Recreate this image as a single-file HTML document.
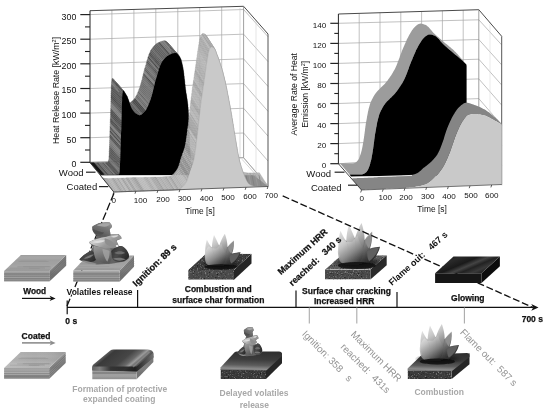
<!DOCTYPE html>
<html><head><meta charset="utf-8"><title>Fire behaviour of wood and coated wood</title>
<style>
html,body{margin:0;padding:0;background:#fff;}
svg{display:block;font-family:"Liberation Sans",sans-serif;}
</style></head><body>
<svg width="550" height="413" viewBox="0 0 550 413">
<rect width="550" height="413" fill="#fff"/>
<defs><linearGradient id="wtop" x1="0" y1="0" x2="0" y2="1"><stop offset="0.0" stop-color="#9c9c9c"/><stop offset="0.111" stop-color="#a6a6a6"/><stop offset="0.222" stop-color="#a5a5a5"/><stop offset="0.333" stop-color="#9e9e9e"/><stop offset="0.444" stop-color="#a1a1a1"/><stop offset="0.556" stop-color="#a1a1a1"/><stop offset="0.667" stop-color="#a4a4a4"/><stop offset="0.778" stop-color="#a6a6a6"/><stop offset="0.889" stop-color="#9c9c9c"/><stop offset="1.0" stop-color="#9b9b9b"/></linearGradient><linearGradient id="wfront" x1="0" y1="0" x2="0" y2="1"><stop offset="0.0" stop-color="#a8a8a8"/><stop offset="0.125" stop-color="#a7a7a7"/><stop offset="0.25" stop-color="#848484"/><stop offset="0.375" stop-color="#858585"/><stop offset="0.5" stop-color="#a3a3a3"/><stop offset="0.625" stop-color="#9f9f9f"/><stop offset="0.75" stop-color="#9c9c9c"/><stop offset="0.875" stop-color="#8e8e8e"/><stop offset="1.0" stop-color="#9a9a9a"/></linearGradient><linearGradient id="wside" x1="0" y1="0" x2="0" y2="1"><stop offset="0.0" stop-color="#767676"/><stop offset="0.143" stop-color="#7c7c7c"/><stop offset="0.286" stop-color="#797979"/><stop offset="0.429" stop-color="#7e7e7e"/><stop offset="0.571" stop-color="#7e7e7e"/><stop offset="0.714" stop-color="#737373"/><stop offset="0.857" stop-color="#727272"/><stop offset="1.0" stop-color="#828282"/></linearGradient><linearGradient id="ctop" x1="0" y1="0" x2="0" y2="1"><stop offset="0.0" stop-color="#acacac"/><stop offset="0.125" stop-color="#aaaaaa"/><stop offset="0.25" stop-color="#aeaeae"/><stop offset="0.375" stop-color="#ababab"/><stop offset="0.5" stop-color="#a9a9a9"/><stop offset="0.625" stop-color="#aeaeae"/><stop offset="0.75" stop-color="#b5b5b5"/><stop offset="0.875" stop-color="#b4b4b4"/><stop offset="1.0" stop-color="#b3b3b3"/></linearGradient><linearGradient id="cfront" x1="0" y1="0" x2="0" y2="1"><stop offset="0.0" stop-color="#9e9e9e"/><stop offset="0.125" stop-color="#a4a4a4"/><stop offset="0.25" stop-color="#a7a7a7"/><stop offset="0.375" stop-color="#afafaf"/><stop offset="0.5" stop-color="#a4a4a4"/><stop offset="0.625" stop-color="#adadad"/><stop offset="0.75" stop-color="#7f7f7f"/><stop offset="0.875" stop-color="#969696"/><stop offset="1.0" stop-color="#afafaf"/></linearGradient><linearGradient id="cside" x1="0" y1="0" x2="0" y2="1"><stop offset="0.0" stop-color="#8c8c8c"/><stop offset="0.143" stop-color="#8d8d8d"/><stop offset="0.286" stop-color="#878787"/><stop offset="0.429" stop-color="#848484"/><stop offset="0.571" stop-color="#808080"/><stop offset="0.714" stop-color="#8a8a8a"/><stop offset="0.857" stop-color="#878787"/><stop offset="1.0" stop-color="#8c8c8c"/></linearGradient><filter id="char" x="0" y="0" width="1" height="1"><feTurbulence type="fractalNoise" baseFrequency="0.75" numOctaves="2" seed="4" result="n"/><feColorMatrix in="n" type="matrix" values="0 0 0 0 0  0 0 0 0 0  0 0 0 0 0  2.2 2.2 0 0 -2.45" result="a"/><feFlood flood-color="#8c8c8c"/><feComposite operator="in" in2="a" result="sp"/><feColorMatrix in="n" type="matrix" values="0 0 0 0 0  0 0 0 0 0  0 0 0 0 0  0 -2.2 -2.2 0 2.0" result="b"/><feFlood flood-color="#141414"/><feComposite operator="in" in2="b" result="dk"/><feMerge><feMergeNode in="SourceGraphic"/><feMergeNode in="dk"/><feMergeNode in="sp"/></feMerge><feComposite operator="in" in2="SourceGraphic"/></filter><linearGradient id="fadeR" x1="0" y1="0" x2="1" y2="0"><stop offset="0" stop-color="rgba(255,255,255,0.12)"/><stop offset="0.5" stop-color="rgba(255,255,255,0)"/><stop offset="1" stop-color="rgba(0,0,0,0.1)"/></linearGradient><linearGradient id="flameg" x1="0.15" y1="0" x2="0.8" y2="1"><stop offset="0" stop-color="#ededed"/><stop offset="0.28" stop-color="#c6c6c6"/><stop offset="0.55" stop-color="#868686"/><stop offset="0.82" stop-color="#3c3c3c"/><stop offset="1" stop-color="#1c1c1c"/></linearGradient><linearGradient id="flameg2" x1="0" y1="0" x2="1" y2="1"><stop offset="0" stop-color="#ffffff"/><stop offset="0.5" stop-color="#cfcfcf"/><stop offset="1" stop-color="#777"/></linearGradient><radialGradient id="shad" cx="0.5" cy="0.5" r="0.5"><stop offset="0" stop-color="#111" stop-opacity="0.95"/><stop offset="0.6" stop-color="#1a1a1a" stop-opacity="0.7"/><stop offset="1" stop-color="#222" stop-opacity="0"/></radialGradient><filter id="blur1" x="-0.1" y="-0.1" width="1.2" height="1.2"><feGaussianBlur stdDeviation="0.45"/></filter><filter id="blur2" x="-0.2" y="-0.2" width="1.4" height="1.4"><feGaussianBlur stdDeviation="0.8"/></filter><linearGradient id="lobeg" x1="0.1" y1="0" x2="0.75" y2="1"><stop offset="0" stop-color="#ececec"/><stop offset="0.3" stop-color="#c6c6c6"/><stop offset="0.62" stop-color="#8a8a8a"/><stop offset="1" stop-color="#303030"/></linearGradient><filter id="blurF" x="-0.1" y="-0.1" width="1.2" height="1.2"><feGaussianBlur stdDeviation="1.3"/></filter><linearGradient id="smk1" x1="0.8" y1="0" x2="0.2" y2="1"><stop offset="0" stop-color="#9c9c9c"/><stop offset="0.3" stop-color="#7c7c7c"/><stop offset="1" stop-color="#4e4e4e"/></linearGradient><linearGradient id="smk2" x1="0" y1="0" x2="1" y2="0.6"><stop offset="0" stop-color="#c4c4c4"/><stop offset="0.35" stop-color="#cccccc"/><stop offset="0.7" stop-color="#9a9a9a"/><stop offset="1" stop-color="#8a8a8a"/></linearGradient><linearGradient id="smk3" x1="0" y1="0" x2="0.3" y2="1"><stop offset="0" stop-color="#a0a0a0"/><stop offset="0.5" stop-color="#7e7e7e"/><stop offset="1" stop-color="#5a5a5a"/></linearGradient><linearGradient id="smk4" x1="0" y1="0" x2="1" y2="0.5"><stop offset="0" stop-color="#2c2c2c"/><stop offset="0.5" stop-color="#4a4a4a"/><stop offset="1" stop-color="#2a2a2a"/></linearGradient><filter id="blurS" x="-0.1" y="-0.1" width="1.2" height="1.2"><feGaussianBlur stdDeviation="3.2"/></filter><linearGradient id="cb2top" gradientUnits="userSpaceOnUse" x1="92" y1="0" x2="138" y2="0" gradientTransform="translate(0 366.2) skewX(-50) translate(0 -366.2)"><stop offset="0" stop-color="#5a5a5a"/><stop offset="0.1" stop-color="#3a3a3a"/><stop offset="0.5" stop-color="#464646"/><stop offset="0.7" stop-color="#6a6a6a"/><stop offset="0.8" stop-color="#9c9c9c"/><stop offset="0.88" stop-color="#6a6a6a"/><stop offset="1" stop-color="#4c4c4c"/></linearGradient><linearGradient id="cb2bev" x1="0" y1="0" x2="1" y2="0"><stop offset="0" stop-color="#666"/><stop offset="0.12" stop-color="#888"/><stop offset="0.3" stop-color="#333"/><stop offset="0.7" stop-color="#1c1c1c"/><stop offset="0.9" stop-color="#555"/><stop offset="1" stop-color="#777"/></linearGradient><linearGradient id="glosstop" x1="0.3" y1="0" x2="0.2" y2="1"><stop offset="0" stop-color="#303030"/><stop offset="0.4" stop-color="#3c3c3c"/><stop offset="0.7" stop-color="#5c5c5c"/><stop offset="0.9" stop-color="#8e8e8e"/><stop offset="1" stop-color="#5c5c5c"/></linearGradient><linearGradient id="blacktop" x1="0" y1="0" x2="1" y2="0.6"><stop offset="0" stop-color="#111"/><stop offset="0.3" stop-color="#2a2a2a"/><stop offset="0.5" stop-color="#1a1a1a"/><stop offset="0.62" stop-color="#444"/><stop offset="0.72" stop-color="#222"/><stop offset="0.85" stop-color="#3a3a3a"/><stop offset="1" stop-color="#1a1a1a"/></linearGradient></defs>
<polygon points="90.0,10.7 243.6,6.3 243.6,157.7 90.0,162.3" fill="#fff" stroke="none" stroke-width="0.5" />
<line x1="111.9" y1="10.1" x2="111.9" y2="161.6" stroke="#a6a6a6" stroke-width="0.7" />
<line x1="133.9" y1="9.4" x2="133.9" y2="161.0" stroke="#a6a6a6" stroke-width="0.7" />
<line x1="155.8" y1="8.8" x2="155.8" y2="160.3" stroke="#a6a6a6" stroke-width="0.7" />
<line x1="177.8" y1="8.2" x2="177.8" y2="159.7" stroke="#a6a6a6" stroke-width="0.7" />
<line x1="199.7" y1="7.6" x2="199.7" y2="159.0" stroke="#a6a6a6" stroke-width="0.7" />
<line x1="221.7" y1="6.9" x2="221.7" y2="158.4" stroke="#a6a6a6" stroke-width="0.7" />
<line x1="90.0" y1="162.3" x2="243.6" y2="157.7" stroke="#a6a6a6" stroke-width="0.7" />
<line x1="243.6" y1="157.7" x2="268.0" y2="185.8" stroke="#a6a6a6" stroke-width="0.7" />
<line x1="90.0" y1="137.7" x2="243.6" y2="133.0" stroke="#a6a6a6" stroke-width="0.7" />
<line x1="243.6" y1="133.0" x2="268.0" y2="161.0" stroke="#a6a6a6" stroke-width="0.7" />
<line x1="90.0" y1="113.1" x2="243.6" y2="108.3" stroke="#a6a6a6" stroke-width="0.7" />
<line x1="243.6" y1="108.3" x2="268.0" y2="136.1" stroke="#a6a6a6" stroke-width="0.7" />
<line x1="90.0" y1="88.5" x2="243.6" y2="83.6" stroke="#a6a6a6" stroke-width="0.7" />
<line x1="243.6" y1="83.6" x2="268.0" y2="111.3" stroke="#a6a6a6" stroke-width="0.7" />
<line x1="90.0" y1="63.8" x2="243.6" y2="58.9" stroke="#a6a6a6" stroke-width="0.7" />
<line x1="243.6" y1="58.9" x2="268.0" y2="86.4" stroke="#a6a6a6" stroke-width="0.7" />
<line x1="90.0" y1="39.2" x2="243.6" y2="34.2" stroke="#a6a6a6" stroke-width="0.7" />
<line x1="243.6" y1="34.2" x2="268.0" y2="61.6" stroke="#a6a6a6" stroke-width="0.7" />
<line x1="90.0" y1="14.6" x2="243.6" y2="9.5" stroke="#a6a6a6" stroke-width="0.7" />
<line x1="243.6" y1="9.5" x2="268.0" y2="36.7" stroke="#a6a6a6" stroke-width="0.7" />
<line x1="256.0" y1="20.0" x2="256.0" y2="171.7" stroke="#d4d4d4" stroke-width="0.6" />
<line x1="90.0" y1="10.7" x2="243.6" y2="6.3" stroke="#4a4a4a" stroke-width="1" />
<line x1="243.6" y1="6.3" x2="268.0" y2="34.0" stroke="#4a4a4a" stroke-width="1" />
<line x1="243.6" y1="6.3" x2="243.6" y2="157.7" stroke="#888" stroke-width="0.8" />
<line x1="268.0" y1="34.0" x2="268.0" y2="186.5" stroke="#555" stroke-width="1" />
<line x1="243.6" y1="157.7" x2="268.0" y2="186.5" stroke="#999" stroke-width="0.7" />
<line x1="242.0" y1="159.3" x2="266.6" y2="186.6" stroke="#bbb" stroke-width="0.6" />
<line x1="240.0" y1="8.0" x2="240.0" y2="158.0" stroke="#c8c8c8" stroke-width="0.6" />
<line x1="90.0" y1="162.3" x2="243.6" y2="157.7" stroke="#999" stroke-width="0.7" />
<polygon points="90.0,162.7 92.1,162.7 102.8,174.9 100.7,174.9" fill="#676767" stroke="#676767" stroke-width="0.35"/>
<polygon points="92.1,162.7 94.1,162.7 104.8,174.9 102.8,174.9" fill="#676767" stroke="#676767" stroke-width="0.35"/>
<polygon points="94.1,162.7 96.2,162.7 106.9,174.9 104.8,174.9" fill="#646464" stroke="#646464" stroke-width="0.35"/>
<polygon points="96.2,162.7 98.3,162.6 109.0,174.8 106.9,174.9" fill="#525252" stroke="#525252" stroke-width="0.35"/>
<polygon points="98.3,162.6 100.2,162.6 110.9,174.8 109.0,174.8" fill="#6b6b6b" stroke="#6b6b6b" stroke-width="0.35"/>
<polygon points="100.2,162.6 102.1,162.6 112.8,174.8 110.9,174.8" fill="#6b6b6b" stroke="#6b6b6b" stroke-width="0.35"/>
<polygon points="102.1,162.6 103.7,162.5 114.4,174.7 112.8,174.8" fill="#585858" stroke="#585858" stroke-width="0.35"/>
<polygon points="103.7,162.5 105.2,162.5 115.9,174.7 114.4,174.7" fill="#757575" stroke="#757575" stroke-width="0.35"/>
<polygon points="105.2,162.5 106.4,162.4 117.1,174.6 115.9,174.7" fill="#4a4a4a" stroke="#4a4a4a" stroke-width="0.35"/>
<polygon points="106.4,162.4 107.3,162.4 118.0,174.6 117.1,174.6" fill="#4a4a4a" stroke="#4a4a4a" stroke-width="0.35"/>
<polygon points="107.3,162.4 107.9,162.3 118.6,174.5 118.0,174.6" fill="#4a4a4a" stroke="#4a4a4a" stroke-width="0.35"/>
<polygon points="107.9,162.3 108.2,162.3 118.9,174.5 118.6,174.5" fill="#6a6a6a" stroke="#6a6a6a" stroke-width="0.35"/>
<polygon points="108.2,162.3 108.3,162.0 119.0,174.2 118.9,174.5" fill="#484848" stroke="#484848" stroke-width="0.35"/>
<polygon points="108.3,162.0 108.5,161.5 119.2,173.7 119.0,174.2" fill="#4b4b4b" stroke="#4b4b4b" stroke-width="0.35"/>
<polygon points="108.5,161.5 108.6,160.8 119.3,173.0 119.2,173.7" fill="#555555" stroke="#555555" stroke-width="0.35"/>
<polygon points="108.6,160.8 108.8,160.0 119.5,172.2 119.3,173.0" fill="#616161" stroke="#616161" stroke-width="0.35"/>
<polygon points="108.8,160.0 108.9,159.0 119.6,171.2 119.5,172.2" fill="#777777" stroke="#777777" stroke-width="0.35"/>
<polygon points="108.9,159.0 109.0,157.8 119.7,170.0 119.6,171.2" fill="#6b6b6b" stroke="#6b6b6b" stroke-width="0.35"/>
<polygon points="109.0,157.8 109.1,156.4 119.8,168.6 119.7,170.0" fill="#6d6d6d" stroke="#6d6d6d" stroke-width="0.35"/>
<polygon points="109.1,156.4 109.2,155.0 119.9,167.2 119.8,168.6" fill="#575757" stroke="#575757" stroke-width="0.35"/>
<polygon points="109.2,155.0 109.3,153.4 120.0,165.6 119.9,167.2" fill="#575757" stroke="#575757" stroke-width="0.35"/>
<polygon points="109.3,153.4 109.3,151.7 120.0,163.9 120.0,165.6" fill="#575757" stroke="#575757" stroke-width="0.35"/>
<polygon points="109.3,151.7 109.4,149.9 120.1,162.1 120.0,163.9" fill="#575757" stroke="#575757" stroke-width="0.35"/>
<polygon points="109.4,149.9 109.5,148.0 120.2,160.2 120.1,162.1" fill="#595959" stroke="#595959" stroke-width="0.35"/>
<polygon points="109.5,148.0 109.5,146.1 120.2,158.3 120.2,160.2" fill="#585858" stroke="#585858" stroke-width="0.35"/>
<polygon points="109.5,146.1 109.6,144.1 120.3,156.3 120.2,158.3" fill="#727272" stroke="#727272" stroke-width="0.35"/>
<polygon points="109.6,144.1 109.6,142.1 120.3,154.3 120.3,156.3" fill="#777777" stroke="#777777" stroke-width="0.35"/>
<polygon points="109.6,142.1 109.7,140.1 120.4,152.3 120.3,154.3" fill="#7d7d7d" stroke="#7d7d7d" stroke-width="0.35"/>
<polygon points="109.7,140.1 109.8,138.0 120.5,150.2 120.4,152.3" fill="#7d7d7d" stroke="#7d7d7d" stroke-width="0.35"/>
<polygon points="109.8,138.0 109.8,136.0 120.5,148.2 120.5,150.2" fill="#535353" stroke="#535353" stroke-width="0.35"/>
<polygon points="109.8,136.0 109.9,133.9 120.6,146.1 120.5,148.2" fill="#535353" stroke="#535353" stroke-width="0.35"/>
<polygon points="109.9,133.9 109.9,131.9 120.6,144.1 120.6,146.1" fill="#7e7e7e" stroke="#7e7e7e" stroke-width="0.35"/>
<polygon points="109.9,131.9 110.0,129.9 120.7,142.1 120.6,144.1" fill="#4c4c4c" stroke="#4c4c4c" stroke-width="0.35"/>
<polygon points="110.0,129.9 110.0,128.0 120.7,140.2 120.7,142.1" fill="#737373" stroke="#737373" stroke-width="0.35"/>
<polygon points="110.0,128.0 110.1,126.2 120.8,138.4 120.7,140.2" fill="#4c4c4c" stroke="#4c4c4c" stroke-width="0.35"/>
<polygon points="110.1,126.2 110.2,124.4 120.9,136.6 120.8,138.4" fill="#7d7d7d" stroke="#7d7d7d" stroke-width="0.35"/>
<polygon points="110.2,124.4 110.3,122.7 121.0,134.9 120.9,136.6" fill="#7d7d7d" stroke="#7d7d7d" stroke-width="0.35"/>
<polygon points="110.3,122.7 110.3,121.1 121.0,133.3 121.0,134.9" fill="#555555" stroke="#555555" stroke-width="0.35"/>
<polygon points="110.3,121.1 110.4,119.5 121.1,131.7 121.0,133.3" fill="#4b4b4b" stroke="#4b4b4b" stroke-width="0.35"/>
<polygon points="110.4,119.5 110.5,117.7 121.2,129.9 121.1,131.7" fill="#4b4b4b" stroke="#4b4b4b" stroke-width="0.35"/>
<polygon points="110.5,117.7 110.6,115.9 121.3,128.1 121.2,129.9" fill="#676767" stroke="#676767" stroke-width="0.35"/>
<polygon points="110.6,115.9 110.6,114.0 121.3,126.2 121.3,128.1" fill="#525252" stroke="#525252" stroke-width="0.35"/>
<polygon points="110.6,114.0 110.7,112.0 121.4,124.2 121.3,126.2" fill="#4f4f4f" stroke="#4f4f4f" stroke-width="0.35"/>
<polygon points="110.7,112.0 110.7,110.0 121.4,122.2 121.4,124.2" fill="#4e4e4e" stroke="#4e4e4e" stroke-width="0.35"/>
<polygon points="110.7,110.0 110.8,108.0 121.5,120.2 121.4,122.2" fill="#535353" stroke="#535353" stroke-width="0.35"/>
<polygon points="110.8,108.0 110.8,105.9 121.5,118.1 121.5,120.2" fill="#7e7e7e" stroke="#7e7e7e" stroke-width="0.35"/>
<polygon points="110.8,105.9 110.9,103.8 121.6,116.0 121.5,118.1" fill="#7e7e7e" stroke="#7e7e7e" stroke-width="0.35"/>
<polygon points="110.9,103.8 110.9,101.7 121.6,113.9 121.6,116.0" fill="#797979" stroke="#797979" stroke-width="0.35"/>
<polygon points="110.9,101.7 111.0,99.7 121.7,111.9 121.6,113.9" fill="#5e5e5e" stroke="#5e5e5e" stroke-width="0.35"/>
<polygon points="111.0,99.7 111.0,97.6 121.7,109.8 121.7,111.9" fill="#5e5e5e" stroke="#5e5e5e" stroke-width="0.35"/>
<polygon points="111.0,97.6 111.1,95.6 121.8,107.8 121.7,109.8" fill="#4d4d4d" stroke="#4d4d4d" stroke-width="0.35"/>
<polygon points="111.1,95.6 111.1,93.7 121.8,105.9 121.8,107.8" fill="#4d4d4d" stroke="#4d4d4d" stroke-width="0.35"/>
<polygon points="111.1,93.7 111.2,91.8 121.9,104.0 121.8,105.9" fill="#565656" stroke="#565656" stroke-width="0.35"/>
<polygon points="111.2,91.8 111.3,90.0 122.0,102.2 121.9,104.0" fill="#565656" stroke="#565656" stroke-width="0.35"/>
<polygon points="111.3,90.0 111.4,88.3 122.1,100.5 122.0,102.2" fill="#585858" stroke="#585858" stroke-width="0.35"/>
<polygon points="111.4,88.3 111.4,86.6 122.1,98.8 122.1,100.5" fill="#4d4d4d" stroke="#4d4d4d" stroke-width="0.35"/>
<polygon points="111.4,86.6 111.5,85.1 122.2,97.3 122.1,98.8" fill="#555555" stroke="#555555" stroke-width="0.35"/>
<polygon points="111.5,85.1 111.6,83.7 122.3,95.9 122.2,97.3" fill="#5c5c5c" stroke="#5c5c5c" stroke-width="0.35"/>
<polygon points="111.6,83.7 111.7,82.5 122.4,94.7 122.3,95.9" fill="#7d7d7d" stroke="#7d7d7d" stroke-width="0.35"/>
<polygon points="111.7,82.5 111.8,81.4 122.5,93.6 122.4,94.7" fill="#686868" stroke="#686868" stroke-width="0.35"/>
<polygon points="111.8,81.4 112.0,80.4 122.7,92.6 122.5,93.6" fill="#686868" stroke="#686868" stroke-width="0.35"/>
<polygon points="112.0,80.4 112.1,79.6 122.8,91.8 122.7,92.6" fill="#505050" stroke="#505050" stroke-width="0.35"/>
<polygon points="112.1,79.6 112.3,79.0 123.0,91.2 122.8,91.8" fill="#505050" stroke="#505050" stroke-width="0.35"/>
<polygon points="112.3,79.0 112.4,78.6 123.1,90.8 123.0,91.2" fill="#505050" stroke="#505050" stroke-width="0.35"/>
<polygon points="112.4,78.6 112.6,78.4 123.3,90.6 123.1,90.8" fill="#525252" stroke="#525252" stroke-width="0.35"/>
<polygon points="112.6,78.4 112.9,78.6 123.6,90.8 123.3,90.6" fill="#7c7c7c" stroke="#7c7c7c" stroke-width="0.35"/>
<polygon points="112.9,78.6 113.7,79.6 124.4,91.8 123.6,90.8" fill="#7d7d7d" stroke="#7d7d7d" stroke-width="0.35"/>
<polygon points="113.7,79.6 114.7,81.2 125.4,93.4 124.4,91.8" fill="#7d7d7d" stroke="#7d7d7d" stroke-width="0.35"/>
<polygon points="114.7,81.2 115.7,83.0 126.4,95.2 125.4,93.4" fill="#5f5f5f" stroke="#5f5f5f" stroke-width="0.35"/>
<polygon points="115.7,83.0 116.5,84.4 127.2,96.6 126.4,95.2" fill="#4a4a4a" stroke="#4a4a4a" stroke-width="0.35"/>
<polygon points="116.5,84.4 117.1,85.9 127.8,98.1 127.2,96.6" fill="#4a4a4a" stroke="#4a4a4a" stroke-width="0.35"/>
<polygon points="117.1,85.9 117.7,87.4 128.4,99.6 127.8,98.1" fill="#6f6f6f" stroke="#6f6f6f" stroke-width="0.35"/>
<polygon points="117.7,87.4 118.2,88.9 128.9,101.1 128.4,99.6" fill="#767676" stroke="#767676" stroke-width="0.35"/>
<polygon points="118.2,88.9 118.7,90.4 129.4,102.6 128.9,101.1" fill="#585858" stroke="#585858" stroke-width="0.35"/>
<polygon points="118.7,90.4 119.2,91.9 129.9,104.1 129.4,102.6" fill="#707070" stroke="#707070" stroke-width="0.35"/>
<polygon points="119.2,91.9 119.7,93.4 130.4,105.6 129.9,104.1" fill="#545454" stroke="#545454" stroke-width="0.35"/>
<polygon points="119.7,93.4 120.3,94.8 131.0,107.0 130.4,105.6" fill="#777777" stroke="#777777" stroke-width="0.35"/>
<polygon points="120.3,94.8 121.0,96.2 131.7,108.4 131.0,107.0" fill="#575757" stroke="#575757" stroke-width="0.35"/>
<polygon points="121.0,96.2 121.8,97.5 132.5,109.7 131.7,108.4" fill="#575757" stroke="#575757" stroke-width="0.35"/>
<polygon points="121.8,97.5 122.7,98.8 133.4,111.0 132.5,109.7" fill="#484848" stroke="#484848" stroke-width="0.35"/>
<polygon points="122.7,98.8 123.8,100.0 134.5,112.2 133.4,111.0" fill="#606060" stroke="#606060" stroke-width="0.35"/>
<polygon points="123.8,100.0 124.9,101.0 135.6,113.2 134.5,112.2" fill="#515151" stroke="#515151" stroke-width="0.35"/>
<polygon points="124.9,101.0 126.2,101.9 136.9,114.1 135.6,113.2" fill="#686868" stroke="#686868" stroke-width="0.35"/>
<polygon points="126.2,101.9 127.7,102.7 138.4,114.9 136.9,114.1" fill="#5c5c5c" stroke="#5c5c5c" stroke-width="0.35"/>
<polygon points="127.7,102.7 129.1,103.0 139.8,115.2 138.4,114.9" fill="#5c5c5c" stroke="#5c5c5c" stroke-width="0.35"/>
<polygon points="129.1,103.0 130.5,102.6 141.2,114.8 139.8,115.2" fill="#5c5c5c" stroke="#5c5c5c" stroke-width="0.35"/>
<polygon points="130.5,102.6 131.8,101.6 142.5,113.8 141.2,114.8" fill="#6e6e6e" stroke="#6e6e6e" stroke-width="0.35"/>
<polygon points="131.8,101.6 133.0,100.4 143.7,112.6 142.5,113.8" fill="#4f4f4f" stroke="#4f4f4f" stroke-width="0.35"/>
<polygon points="133.0,100.4 134.1,99.2 144.8,111.4 143.7,112.6" fill="#494949" stroke="#494949" stroke-width="0.35"/>
<polygon points="134.1,99.2 135.0,98.0 145.7,110.2 144.8,111.4" fill="#494949" stroke="#494949" stroke-width="0.35"/>
<polygon points="135.0,98.0 135.8,96.7 146.5,108.9 145.7,110.2" fill="#7d7d7d" stroke="#7d7d7d" stroke-width="0.35"/>
<polygon points="135.8,96.7 136.5,95.4 147.2,107.6 146.5,108.9" fill="#6b6b6b" stroke="#6b6b6b" stroke-width="0.35"/>
<polygon points="136.5,95.4 137.2,93.9 147.9,106.1 147.2,107.6" fill="#707070" stroke="#707070" stroke-width="0.35"/>
<polygon points="137.2,93.9 137.9,92.4 148.6,104.6 147.9,106.1" fill="#7f7f7f" stroke="#7f7f7f" stroke-width="0.35"/>
<polygon points="137.9,92.4 138.5,90.9 149.2,103.1 148.6,104.6" fill="#666666" stroke="#666666" stroke-width="0.35"/>
<polygon points="138.5,90.9 139.0,89.4 149.7,101.6 149.2,103.1" fill="#7a7a7a" stroke="#7a7a7a" stroke-width="0.35"/>
<polygon points="139.0,89.4 139.6,88.0 150.3,100.2 149.7,101.6" fill="#6f6f6f" stroke="#6f6f6f" stroke-width="0.35"/>
<polygon points="139.6,88.0 140.1,86.5 150.8,98.7 150.3,100.2" fill="#6f6f6f" stroke="#6f6f6f" stroke-width="0.35"/>
<polygon points="140.1,86.5 140.5,85.1 151.2,97.3 150.8,98.7" fill="#6f6f6f" stroke="#6f6f6f" stroke-width="0.35"/>
<polygon points="140.5,85.1 141.0,83.6 151.7,95.8 151.2,97.3" fill="#6e6e6e" stroke="#6e6e6e" stroke-width="0.35"/>
<polygon points="141.0,83.6 141.4,82.1 152.1,94.3 151.7,95.8" fill="#6e6e6e" stroke="#6e6e6e" stroke-width="0.35"/>
<polygon points="141.4,82.1 141.8,80.6 152.5,92.8 152.1,94.3" fill="#6e6e6e" stroke="#6e6e6e" stroke-width="0.35"/>
<polygon points="141.8,80.6 142.2,79.0 152.9,91.2 152.5,92.8" fill="#747474" stroke="#747474" stroke-width="0.35"/>
<polygon points="142.2,79.0 142.5,77.5 153.2,89.7 152.9,91.2" fill="#747474" stroke="#747474" stroke-width="0.35"/>
<polygon points="142.5,77.5 142.9,76.0 153.6,88.2 153.2,89.7" fill="#6a6a6a" stroke="#6a6a6a" stroke-width="0.35"/>
<polygon points="142.9,76.0 143.3,74.5 154.0,86.7 153.6,88.2" fill="#686868" stroke="#686868" stroke-width="0.35"/>
<polygon points="143.3,74.5 143.7,72.9 154.4,85.1 154.0,86.7" fill="#4c4c4c" stroke="#4c4c4c" stroke-width="0.35"/>
<polygon points="143.7,72.9 144.0,71.4 154.7,83.6 154.4,85.1" fill="#7f7f7f" stroke="#7f7f7f" stroke-width="0.35"/>
<polygon points="144.0,71.4 144.4,69.9 155.1,82.1 154.7,83.6" fill="#7f7f7f" stroke="#7f7f7f" stroke-width="0.35"/>
<polygon points="144.4,69.9 144.8,68.4 155.5,80.6 155.1,82.1" fill="#5d5d5d" stroke="#5d5d5d" stroke-width="0.35"/>
<polygon points="144.8,68.4 145.3,66.9 156.0,79.1 155.5,80.6" fill="#686868" stroke="#686868" stroke-width="0.35"/>
<polygon points="145.3,66.9 145.7,65.4 156.4,77.6 156.0,79.1" fill="#767676" stroke="#767676" stroke-width="0.35"/>
<polygon points="145.7,65.4 146.2,63.9 156.9,76.1 156.4,77.6" fill="#727272" stroke="#727272" stroke-width="0.35"/>
<polygon points="146.2,63.9 146.6,62.3 157.3,74.5 156.9,76.1" fill="#696969" stroke="#696969" stroke-width="0.35"/>
<polygon points="146.6,62.3 147.0,60.8 157.7,73.0 157.3,74.5" fill="#545454" stroke="#545454" stroke-width="0.35"/>
<polygon points="147.0,60.8 147.5,59.3 158.2,71.5 157.7,73.0" fill="#636363" stroke="#636363" stroke-width="0.35"/>
<polygon points="147.5,59.3 147.9,57.8 158.6,70.0 158.2,71.5" fill="#7b7b7b" stroke="#7b7b7b" stroke-width="0.35"/>
<polygon points="147.9,57.8 148.4,56.3 159.1,68.5 158.6,70.0" fill="#484848" stroke="#484848" stroke-width="0.35"/>
<polygon points="148.4,56.3 148.9,54.8 159.6,67.0 159.1,68.5" fill="#6d6d6d" stroke="#6d6d6d" stroke-width="0.35"/>
<polygon points="148.9,54.8 149.5,53.4 160.2,65.6 159.6,67.0" fill="#515151" stroke="#515151" stroke-width="0.35"/>
<polygon points="149.5,53.4 150.1,52.0 160.8,64.2 160.2,65.6" fill="#515151" stroke="#515151" stroke-width="0.35"/>
<polygon points="150.1,52.0 150.7,50.6 161.4,62.8 160.8,64.2" fill="#606060" stroke="#606060" stroke-width="0.35"/>
<polygon points="150.7,50.6 151.5,49.3 162.2,61.5 161.4,62.8" fill="#606060" stroke="#606060" stroke-width="0.35"/>
<polygon points="151.5,49.3 152.4,48.0 163.1,60.2 162.2,61.5" fill="#6d6d6d" stroke="#6d6d6d" stroke-width="0.35"/>
<polygon points="152.4,48.0 153.5,46.7 164.2,58.9 163.1,60.2" fill="#606060" stroke="#606060" stroke-width="0.35"/>
<polygon points="153.5,46.7 154.5,45.6 165.2,57.8 164.2,58.9" fill="#606060" stroke="#606060" stroke-width="0.35"/>
<polygon points="154.5,45.6 155.7,44.5 166.4,56.7 165.2,57.8" fill="#606060" stroke="#606060" stroke-width="0.35"/>
<polygon points="155.7,44.5 156.9,43.6 167.6,55.8 166.4,56.7" fill="#606060" stroke="#606060" stroke-width="0.35"/>
<polygon points="156.9,43.6 158.2,42.8 168.9,55.0 167.6,55.8" fill="#686868" stroke="#686868" stroke-width="0.35"/>
<polygon points="158.2,42.8 159.7,42.1 170.4,54.3 168.9,55.0" fill="#4f4f4f" stroke="#4f4f4f" stroke-width="0.35"/>
<polygon points="159.7,42.1 161.1,41.5 171.8,53.7 170.4,54.3" fill="#767676" stroke="#767676" stroke-width="0.35"/>
<polygon points="161.1,41.5 162.7,41.0 173.4,53.2 171.8,53.7" fill="#767676" stroke="#767676" stroke-width="0.35"/>
<polygon points="162.7,41.0 164.2,40.7 174.9,52.9 173.4,53.2" fill="#7d7d7d" stroke="#7d7d7d" stroke-width="0.35"/>
<polygon points="164.2,40.7 165.6,40.9 176.3,53.1 174.9,52.9" fill="#515151" stroke="#515151" stroke-width="0.35"/>
<polygon points="165.6,40.9 166.9,41.9 177.6,54.1 176.3,53.1" fill="#575757" stroke="#575757" stroke-width="0.35"/>
<polygon points="166.9,41.9 168.1,43.2 178.8,55.4 177.6,54.1" fill="#5f5f5f" stroke="#5f5f5f" stroke-width="0.35"/>
<polygon points="168.1,43.2 169.0,44.5 179.7,56.7 178.8,55.4" fill="#636363" stroke="#636363" stroke-width="0.35"/>
<polygon points="169.0,44.5 169.6,45.7 180.3,57.9 179.7,56.7" fill="#767676" stroke="#767676" stroke-width="0.35"/>
<polygon points="169.6,45.7 170.2,47.1 180.9,59.3 180.3,57.9" fill="#767676" stroke="#767676" stroke-width="0.35"/>
<polygon points="170.2,47.1 170.7,48.6 181.4,60.8 180.9,59.3" fill="#4c4c4c" stroke="#4c4c4c" stroke-width="0.35"/>
<polygon points="170.7,48.6 171.1,50.2 181.8,62.4 181.4,60.8" fill="#787878" stroke="#787878" stroke-width="0.35"/>
<polygon points="171.1,50.2 171.5,51.8 182.2,64.0 181.8,62.4" fill="#6f6f6f" stroke="#6f6f6f" stroke-width="0.35"/>
<polygon points="171.5,51.8 171.8,53.4 182.5,65.6 182.2,64.0" fill="#595959" stroke="#595959" stroke-width="0.35"/>
<polygon points="171.8,53.4 172.1,55.0 182.8,67.2 182.5,65.6" fill="#595959" stroke="#595959" stroke-width="0.35"/>
<polygon points="172.1,55.0 172.4,56.5 183.1,68.7 182.8,67.2" fill="#4f4f4f" stroke="#4f4f4f" stroke-width="0.35"/>
<polygon points="172.4,56.5 172.6,58.0 183.3,70.2 183.1,68.7" fill="#494949" stroke="#494949" stroke-width="0.35"/>
<polygon points="172.6,58.0 172.9,59.6 183.6,71.8 183.3,70.2" fill="#494949" stroke="#494949" stroke-width="0.35"/>
<polygon points="172.9,59.6 173.1,61.1 183.8,73.3 183.6,71.8" fill="#4f4f4f" stroke="#4f4f4f" stroke-width="0.35"/>
<polygon points="173.1,61.1 173.3,62.7 184.0,74.9 183.8,73.3" fill="#6b6b6b" stroke="#6b6b6b" stroke-width="0.35"/>
<polygon points="173.3,62.7 173.5,64.2 184.2,76.4 184.0,74.9" fill="#6b6b6b" stroke="#6b6b6b" stroke-width="0.35"/>
<polygon points="173.5,64.2 173.6,65.8 184.3,78.0 184.2,76.4" fill="#757575" stroke="#757575" stroke-width="0.35"/>
<polygon points="173.6,65.8 173.8,67.3 184.5,79.5 184.3,78.0" fill="#757575" stroke="#757575" stroke-width="0.35"/>
<polygon points="173.8,67.3 174.0,68.9 184.7,81.1 184.5,79.5" fill="#535353" stroke="#535353" stroke-width="0.35"/>
<polygon points="174.0,68.9 174.1,70.4 184.8,82.6 184.7,81.1" fill="#525252" stroke="#525252" stroke-width="0.35"/>
<polygon points="174.1,70.4 174.3,72.0 185.0,84.2 184.8,82.6" fill="#626262" stroke="#626262" stroke-width="0.35"/>
<polygon points="174.3,72.0 174.5,73.5 185.2,85.7 185.0,84.2" fill="#525252" stroke="#525252" stroke-width="0.35"/>
<polygon points="174.5,73.5 174.6,75.1 185.3,87.3 185.2,85.7" fill="#5b5b5b" stroke="#5b5b5b" stroke-width="0.35"/>
<polygon points="174.6,75.1 174.8,76.6 185.5,88.8 185.3,87.3" fill="#656565" stroke="#656565" stroke-width="0.35"/>
<polygon points="174.8,76.6 175.1,78.2 185.8,90.4 185.5,88.8" fill="#727272" stroke="#727272" stroke-width="0.35"/>
<polygon points="175.1,78.2 175.3,79.7 186.0,91.9 185.8,90.4" fill="#747474" stroke="#747474" stroke-width="0.35"/>
<polygon points="175.3,79.7 175.5,81.3 186.2,93.5 186.0,91.9" fill="#747474" stroke="#747474" stroke-width="0.35"/>
<polygon points="175.5,81.3 175.8,82.8 186.5,95.0 186.2,93.5" fill="#7c7c7c" stroke="#7c7c7c" stroke-width="0.35"/>
<polygon points="175.8,82.8 176.0,84.4 186.7,96.6 186.5,95.0" fill="#4f4f4f" stroke="#4f4f4f" stroke-width="0.35"/>
<polygon points="176.0,84.4 176.3,85.9 187.0,98.1 186.7,96.6" fill="#6b6b6b" stroke="#6b6b6b" stroke-width="0.35"/>
<polygon points="176.3,85.9 176.5,87.5 187.2,99.7 187.0,98.1" fill="#6b6b6b" stroke="#6b6b6b" stroke-width="0.35"/>
<polygon points="176.5,87.5 176.7,89.0 187.4,101.2 187.2,99.7" fill="#676767" stroke="#676767" stroke-width="0.35"/>
<polygon points="176.7,89.0 176.9,90.6 187.6,102.8 187.4,101.2" fill="#676767" stroke="#676767" stroke-width="0.35"/>
<polygon points="176.9,90.6 177.1,92.1 187.8,104.3 187.6,102.8" fill="#676767" stroke="#676767" stroke-width="0.35"/>
<polygon points="177.1,92.1 177.3,93.7 188.0,105.9 187.8,104.3" fill="#676767" stroke="#676767" stroke-width="0.35"/>
<polygon points="177.3,93.7 177.4,95.2 188.1,107.4 188.0,105.9" fill="#6c6c6c" stroke="#6c6c6c" stroke-width="0.35"/>
<polygon points="177.4,95.2 177.5,96.8 188.2,109.0 188.1,107.4" fill="#707070" stroke="#707070" stroke-width="0.35"/>
<polygon points="177.5,96.8 177.6,98.3 188.3,110.5 188.2,109.0" fill="#707070" stroke="#707070" stroke-width="0.35"/>
<polygon points="177.6,98.3 177.7,99.9 188.4,112.1 188.3,110.5" fill="#707070" stroke="#707070" stroke-width="0.35"/>
<polygon points="177.7,99.9 177.8,101.4 188.5,113.6 188.4,112.1" fill="#7a7a7a" stroke="#7a7a7a" stroke-width="0.35"/>
<polygon points="177.8,101.4 177.9,103.0 188.6,115.2 188.5,113.6" fill="#7a7a7a" stroke="#7a7a7a" stroke-width="0.35"/>
<polygon points="177.9,103.0 177.9,104.6 188.6,116.8 188.6,115.2" fill="#7a7a7a" stroke="#7a7a7a" stroke-width="0.35"/>
<polygon points="177.9,104.6 178.0,106.1 188.7,118.3 188.6,116.8" fill="#747474" stroke="#747474" stroke-width="0.35"/>
<polygon points="178.0,106.1 178.1,107.7 188.8,119.9 188.7,118.3" fill="#7a7a7a" stroke="#7a7a7a" stroke-width="0.35"/>
<polygon points="178.1,107.7 178.2,109.2 188.9,121.4 188.8,119.9" fill="#7a7a7a" stroke="#7a7a7a" stroke-width="0.35"/>
<polygon points="178.2,109.2 178.2,110.8 188.9,123.0 188.9,121.4" fill="#4c4c4c" stroke="#4c4c4c" stroke-width="0.35"/>
<polygon points="178.2,110.8 178.3,112.4 189.0,124.6 188.9,123.0" fill="#666666" stroke="#666666" stroke-width="0.35"/>
<polygon points="178.3,112.4 178.4,113.9 189.1,126.1 189.0,124.6" fill="#666666" stroke="#666666" stroke-width="0.35"/>
<polygon points="178.4,113.9 178.4,115.5 189.1,127.7 189.1,126.1" fill="#494949" stroke="#494949" stroke-width="0.35"/>
<polygon points="178.4,115.5 178.5,117.0 189.2,129.2 189.1,127.7" fill="#494949" stroke="#494949" stroke-width="0.35"/>
<polygon points="178.5,117.0 178.6,118.6 189.3,130.8 189.2,129.2" fill="#747474" stroke="#747474" stroke-width="0.35"/>
<polygon points="178.6,118.6 178.6,120.2 189.3,132.4 189.3,130.8" fill="#5a5a5a" stroke="#5a5a5a" stroke-width="0.35"/>
<polygon points="178.6,120.2 178.7,121.7 189.4,133.9 189.3,132.4" fill="#5a5a5a" stroke="#5a5a5a" stroke-width="0.35"/>
<polygon points="178.7,121.7 178.7,123.3 189.4,135.5 189.4,133.9" fill="#505050" stroke="#505050" stroke-width="0.35"/>
<polygon points="178.7,123.3 178.8,124.8 189.5,137.0 189.4,135.5" fill="#707070" stroke="#707070" stroke-width="0.35"/>
<polygon points="178.8,124.8 178.8,126.4 189.5,138.6 189.5,137.0" fill="#707070" stroke="#707070" stroke-width="0.35"/>
<polygon points="178.8,126.4 178.9,128.0 189.6,140.2 189.5,138.6" fill="#7c7c7c" stroke="#7c7c7c" stroke-width="0.35"/>
<polygon points="178.9,128.0 178.9,129.5 189.6,141.7 189.6,140.2" fill="#7d7d7d" stroke="#7d7d7d" stroke-width="0.35"/>
<polygon points="178.9,129.5 179.0,131.1 189.7,143.3 189.6,141.7" fill="#545454" stroke="#545454" stroke-width="0.35"/>
<polygon points="179.0,131.1 179.0,132.7 189.7,144.9 189.7,143.3" fill="#585858" stroke="#585858" stroke-width="0.35"/>
<polygon points="179.0,132.7 179.1,134.2 189.8,146.4 189.7,144.9" fill="#6b6b6b" stroke="#6b6b6b" stroke-width="0.35"/>
<polygon points="179.1,134.2 179.2,135.8 189.9,148.0 189.8,146.4" fill="#777777" stroke="#777777" stroke-width="0.35"/>
<polygon points="179.2,135.8 179.3,137.3 190.0,149.5 189.9,148.0" fill="#595959" stroke="#595959" stroke-width="0.35"/>
<polygon points="179.3,137.3 179.4,138.9 190.1,151.1 190.0,149.5" fill="#777777" stroke="#777777" stroke-width="0.35"/>
<polygon points="179.4,138.9 179.5,140.5 190.2,152.7 190.1,151.1" fill="#777777" stroke="#777777" stroke-width="0.35"/>
<polygon points="179.5,140.5 179.6,142.0 190.3,154.2 190.2,152.7" fill="#777777" stroke="#777777" stroke-width="0.35"/>
<polygon points="179.6,142.0 179.8,143.6 190.5,155.8 190.3,154.2" fill="#777777" stroke="#777777" stroke-width="0.35"/>
<polygon points="179.8,143.6 180.0,145.2 190.7,157.4 190.5,155.8" fill="#686868" stroke="#686868" stroke-width="0.35"/>
<polygon points="180.0,145.2 180.2,146.8 190.9,159.0 190.7,157.4" fill="#666666" stroke="#666666" stroke-width="0.35"/>
<polygon points="180.2,146.8 180.4,148.3 191.1,160.5 190.9,159.0" fill="#696969" stroke="#696969" stroke-width="0.35"/>
<polygon points="180.4,148.3 180.7,149.9 191.4,162.1 191.1,160.5" fill="#7e7e7e" stroke="#7e7e7e" stroke-width="0.35"/>
<polygon points="180.7,149.9 181.0,151.3 191.7,163.5 191.4,162.1" fill="#5e5e5e" stroke="#5e5e5e" stroke-width="0.35"/>
<polygon points="181.0,151.3 181.3,152.8 192.0,165.0 191.7,163.5" fill="#5e5e5e" stroke="#5e5e5e" stroke-width="0.35"/>
<polygon points="181.3,152.8 181.8,154.3 192.5,166.5 192.0,165.0" fill="#636363" stroke="#636363" stroke-width="0.35"/>
<polygon points="181.8,154.3 182.4,155.9 193.1,168.1 192.5,166.5" fill="#4b4b4b" stroke="#4b4b4b" stroke-width="0.35"/>
<polygon points="182.4,155.9 183.2,157.5 193.9,169.7 193.1,168.1" fill="#5f5f5f" stroke="#5f5f5f" stroke-width="0.35"/>
<polygon points="183.2,157.5 184.1,158.8 194.8,171.0 193.9,169.7" fill="#5f5f5f" stroke="#5f5f5f" stroke-width="0.35"/>
<polygon points="184.1,158.8 185.1,159.7 195.8,171.9 194.8,171.0" fill="#5f5f5f" stroke="#5f5f5f" stroke-width="0.35"/>
<polygon points="185.1,159.7 186.3,160.3 197.0,172.5 195.8,171.9" fill="#626262" stroke="#626262" stroke-width="0.35"/>
<polygon points="186.3,160.3 187.6,160.9 198.3,173.1 197.0,172.5" fill="#606060" stroke="#606060" stroke-width="0.35"/>
<polygon points="187.6,160.9 189.2,161.3 199.9,173.5 198.3,173.1" fill="#606060" stroke="#606060" stroke-width="0.35"/>
<polygon points="189.2,161.3 190.8,161.7 201.5,173.9 199.9,173.5" fill="#606060" stroke="#606060" stroke-width="0.35"/>
<polygon points="190.8,161.7 192.5,162.0 203.2,174.2 201.5,173.9" fill="#595959" stroke="#595959" stroke-width="0.35"/>
<polygon points="192.5,162.0 194.1,162.1 204.8,174.3 203.2,174.2" fill="#6a6a6a" stroke="#6a6a6a" stroke-width="0.35"/>
<polygon points="194.1,162.1 195.7,162.1 206.4,174.3 204.8,174.3" fill="#6a6a6a" stroke="#6a6a6a" stroke-width="0.35"/>
<polygon points="195.7,162.1 197.2,162.1 207.9,174.3 206.4,174.3" fill="#737373" stroke="#737373" stroke-width="0.35"/>
<polygon points="197.2,162.1 198.8,162.1 209.5,174.3 207.9,174.3" fill="#525252" stroke="#525252" stroke-width="0.35"/>
<polygon points="198.8,162.1 200.3,162.1 211.0,174.3 209.5,174.3" fill="#6e6e6e" stroke="#6e6e6e" stroke-width="0.35"/>
<polygon points="200.3,162.1 201.9,162.1 212.6,174.3 211.0,174.3" fill="#5b5b5b" stroke="#5b5b5b" stroke-width="0.35"/>
<polygon points="201.9,162.1 203.4,162.1 214.1,174.3 212.6,174.3" fill="#4d4d4d" stroke="#4d4d4d" stroke-width="0.35"/>
<polygon points="203.4,162.1 205.0,162.0 215.7,174.2 214.1,174.3" fill="#4e4e4e" stroke="#4e4e4e" stroke-width="0.35"/>
<polygon points="205.0,162.0 206.6,162.0 217.3,174.2 215.7,174.2" fill="#565656" stroke="#565656" stroke-width="0.35"/>
<polygon points="206.6,162.0 208.1,161.9 218.8,174.1 217.3,174.2" fill="#656565" stroke="#656565" stroke-width="0.35"/>
<polygon points="208.1,161.9 209.7,161.9 220.4,174.1 218.8,174.1" fill="#5d5d5d" stroke="#5d5d5d" stroke-width="0.35"/>
<polygon points="209.7,161.9 211.3,161.8 222.0,174.0 220.4,174.1" fill="#656565" stroke="#656565" stroke-width="0.35"/>
<polygon points="90.0,162.5 94.0,162.4 104.7,174.8 100.7,174.9" fill="#161616" stroke="none" stroke-width="0.5" />
<polygon points="100.7,174.9 102.8,174.9 104.8,174.9 106.9,174.9 109.0,174.8 110.9,174.8 112.8,174.8 114.4,174.7 115.9,174.7 117.1,174.6 118.0,174.6 118.6,174.5 118.9,174.5 119.0,174.2 119.2,173.7 119.3,173.0 119.5,172.2 119.6,171.2 119.7,170.0 119.8,168.6 119.9,167.2 120.0,165.6 120.0,163.9 120.1,162.1 120.2,160.2 120.2,158.3 120.3,156.3 120.3,154.3 120.4,152.3 120.5,150.2 120.5,148.2 120.6,146.1 120.6,144.1 120.7,142.1 120.7,140.2 120.8,138.4 120.9,136.6 121.0,134.9 121.0,133.3 121.1,131.7 121.2,129.9 121.3,128.1 121.3,126.2 121.4,124.2 121.4,122.2 121.5,120.2 121.5,118.1 121.6,116.0 121.6,113.9 121.7,111.9 121.7,109.8 121.8,107.8 121.8,105.9 121.9,104.0 122.0,102.2 122.1,100.5 122.1,98.8 122.2,97.3 122.3,95.9 122.4,94.7 122.5,93.6 122.7,92.6 122.8,91.8 123.0,91.2 123.1,90.8 123.3,90.6 123.6,90.8 124.4,91.8 125.4,93.4 126.4,95.2 127.2,96.6 127.8,98.1 128.4,99.6 128.9,101.1 129.4,102.6 129.9,104.1 130.4,105.6 131.0,107.0 131.7,108.4 132.5,109.7 133.4,111.0 134.5,112.2 135.6,113.2 136.9,114.1 138.4,114.9 139.8,115.2 141.2,114.8 142.5,113.8 143.7,112.6 144.8,111.4 145.7,110.2 146.5,108.9 147.2,107.6 147.9,106.1 148.6,104.6 149.2,103.1 149.7,101.6 150.3,100.2 150.8,98.7 151.2,97.3 151.7,95.8 152.1,94.3 152.5,92.8 152.9,91.2 153.2,89.7 153.6,88.2 154.0,86.7 154.4,85.1 154.7,83.6 155.1,82.1 155.5,80.6 156.0,79.1 156.4,77.6 156.9,76.1 157.3,74.5 157.7,73.0 158.2,71.5 158.6,70.0 159.1,68.5 159.6,67.0 160.2,65.6 160.8,64.2 161.4,62.8 162.2,61.5 163.1,60.2 164.2,58.9 165.2,57.8 166.4,56.7 167.6,55.8 168.9,55.0 170.4,54.3 171.8,53.7 173.4,53.2 174.9,52.9 176.3,53.1 177.6,54.1 178.8,55.4 179.7,56.7 180.3,57.9 180.9,59.3 181.4,60.8 181.8,62.4 182.2,64.0 182.5,65.6 182.8,67.2 183.1,68.7 183.3,70.2 183.6,71.8 183.8,73.3 184.0,74.9 184.2,76.4 184.3,78.0 184.5,79.5 184.7,81.1 184.8,82.6 185.0,84.2 185.2,85.7 185.3,87.3 185.5,88.8 185.8,90.4 186.0,91.9 186.2,93.5 186.5,95.0 186.7,96.6 187.0,98.1 187.2,99.7 187.4,101.2 187.6,102.8 187.8,104.3 188.0,105.9 188.1,107.4 188.2,109.0 188.3,110.5 188.4,112.1 188.5,113.6 188.6,115.2 188.6,116.8 188.7,118.3 188.8,119.9 188.9,121.4 188.9,123.0 189.0,124.6 189.1,126.1 189.1,127.7 189.2,129.2 189.3,130.8 189.3,132.4 189.4,133.9 189.4,135.5 189.5,137.0 189.5,138.6 189.6,140.2 189.6,141.7 189.7,143.3 189.7,144.9 189.8,146.4 189.9,148.0 190.0,149.5 190.1,151.1 190.2,152.7 190.3,154.2 190.5,155.8 190.7,157.4 190.9,159.0 191.1,160.5 191.4,162.1 191.7,163.5 192.0,165.0 192.5,166.5 193.1,168.1 193.9,169.7 194.8,171.0 195.8,171.9 197.0,172.5 198.3,173.1 199.9,173.5 201.5,173.9 203.2,174.2 204.8,174.3 206.4,174.3 207.9,174.3 209.5,174.3 211.0,174.3 212.6,174.3 214.1,174.3 215.7,174.2 217.3,174.2 218.8,174.1 220.4,174.1 222.0,174.0 222.0,175.0 100.7,175.2" fill="#000" stroke="none" stroke-width="0.5" />
<polygon points="113.8,192.0 101.2,177.2 107.0,178.4" fill="#a8a8a8" stroke="none" stroke-width="0.5" />
<polygon points="105.2,178.6 106.7,178.5 115.3,191.9 113.8,192.0" fill="#b1b1b1" stroke="#b1b1b1" stroke-width="0.35"/>
<polygon points="106.7,178.5 108.1,178.5 116.7,191.9 115.3,191.9" fill="#ababab" stroke="#ababab" stroke-width="0.35"/>
<polygon points="108.1,178.5 109.6,178.4 118.2,191.8 116.7,191.9" fill="#b4b4b4" stroke="#b4b4b4" stroke-width="0.35"/>
<polygon points="109.6,178.4 111.0,178.4 119.6,191.8 118.2,191.8" fill="#b4b4b4" stroke="#b4b4b4" stroke-width="0.35"/>
<polygon points="111.0,178.4 112.5,178.3 121.1,191.7 119.6,191.8" fill="#acacac" stroke="#acacac" stroke-width="0.35"/>
<polygon points="112.5,178.3 113.9,178.3 122.5,191.7 121.1,191.7" fill="#9d9d9d" stroke="#9d9d9d" stroke-width="0.35"/>
<polygon points="113.9,178.3 115.4,178.2 124.0,191.6 122.5,191.7" fill="#aeaeae" stroke="#aeaeae" stroke-width="0.35"/>
<polygon points="115.4,178.2 116.9,178.2 125.5,191.6 124.0,191.6" fill="#b4b4b4" stroke="#b4b4b4" stroke-width="0.35"/>
<polygon points="116.9,178.2 118.3,178.1 126.9,191.5 125.5,191.6" fill="#a3a3a3" stroke="#a3a3a3" stroke-width="0.35"/>
<polygon points="118.3,178.1 119.8,178.1 128.4,191.5 126.9,191.5" fill="#bababa" stroke="#bababa" stroke-width="0.35"/>
<polygon points="119.8,178.1 121.2,178.0 129.8,191.4 128.4,191.5" fill="#b7b7b7" stroke="#b7b7b7" stroke-width="0.35"/>
<polygon points="121.2,178.0 122.7,178.0 131.3,191.4 129.8,191.4" fill="#9e9e9e" stroke="#9e9e9e" stroke-width="0.35"/>
<polygon points="122.7,178.0 124.1,177.9 132.7,191.3 131.3,191.4" fill="#ababab" stroke="#ababab" stroke-width="0.35"/>
<polygon points="124.1,177.9 125.6,177.9 134.2,191.3 132.7,191.3" fill="#b9b9b9" stroke="#b9b9b9" stroke-width="0.35"/>
<polygon points="125.6,177.9 127.0,177.8 135.6,191.2 134.2,191.3" fill="#a1a1a1" stroke="#a1a1a1" stroke-width="0.35"/>
<polygon points="127.0,177.8 128.5,177.8 137.1,191.2 135.6,191.2" fill="#a1a1a1" stroke="#a1a1a1" stroke-width="0.35"/>
<polygon points="128.5,177.8 130.0,177.7 138.6,191.1 137.1,191.2" fill="#b8b8b8" stroke="#b8b8b8" stroke-width="0.35"/>
<polygon points="130.0,177.7 131.4,177.7 140.0,191.1 138.6,191.1" fill="#adadad" stroke="#adadad" stroke-width="0.35"/>
<polygon points="131.4,177.7 132.9,177.6 141.5,191.0 140.0,191.1" fill="#ababab" stroke="#ababab" stroke-width="0.35"/>
<polygon points="132.9,177.6 134.3,177.6 142.9,191.0 141.5,191.0" fill="#9e9e9e" stroke="#9e9e9e" stroke-width="0.35"/>
<polygon points="134.3,177.6 135.8,177.6 144.4,191.0 142.9,191.0" fill="#9e9e9e" stroke="#9e9e9e" stroke-width="0.35"/>
<polygon points="135.8,177.6 137.2,177.5 145.8,190.9 144.4,191.0" fill="#b4b4b4" stroke="#b4b4b4" stroke-width="0.35"/>
<polygon points="137.2,177.5 138.7,177.5 147.3,190.9 145.8,190.9" fill="#bababa" stroke="#bababa" stroke-width="0.35"/>
<polygon points="138.7,177.5 140.2,177.4 148.8,190.8 147.3,190.9" fill="#bababa" stroke="#bababa" stroke-width="0.35"/>
<polygon points="140.2,177.4 141.6,177.4 150.2,190.8 148.8,190.8" fill="#bababa" stroke="#bababa" stroke-width="0.35"/>
<polygon points="141.6,177.4 143.1,177.4 151.7,190.8 150.2,190.8" fill="#bababa" stroke="#bababa" stroke-width="0.35"/>
<polygon points="143.1,177.4 144.5,177.3 153.1,190.7 151.7,190.8" fill="#b2b2b2" stroke="#b2b2b2" stroke-width="0.35"/>
<polygon points="144.5,177.3 146.0,177.3 154.6,190.7 153.1,190.7" fill="#ababab" stroke="#ababab" stroke-width="0.35"/>
<polygon points="146.0,177.3 147.4,177.3 156.0,190.7 154.6,190.7" fill="#ababab" stroke="#ababab" stroke-width="0.35"/>
<polygon points="147.4,177.3 148.9,177.2 157.5,190.6 156.0,190.7" fill="#b8b8b8" stroke="#b8b8b8" stroke-width="0.35"/>
<polygon points="148.9,177.2 150.4,177.2 159.0,190.6 157.5,190.6" fill="#b8b8b8" stroke="#b8b8b8" stroke-width="0.35"/>
<polygon points="150.4,177.2 151.8,177.2 160.4,190.6 159.0,190.6" fill="#a7a7a7" stroke="#a7a7a7" stroke-width="0.35"/>
<polygon points="151.8,177.2 153.3,177.1 161.9,190.5 160.4,190.6" fill="#a8a8a8" stroke="#a8a8a8" stroke-width="0.35"/>
<polygon points="153.3,177.1 154.7,177.1 163.3,190.5 161.9,190.5" fill="#a8a8a8" stroke="#a8a8a8" stroke-width="0.35"/>
<polygon points="154.7,177.1 156.2,177.1 164.8,190.5 163.3,190.5" fill="#9d9d9d" stroke="#9d9d9d" stroke-width="0.35"/>
<polygon points="156.2,177.1 157.6,177.0 166.2,190.4 164.8,190.5" fill="#b2b2b2" stroke="#b2b2b2" stroke-width="0.35"/>
<polygon points="157.6,177.0 159.1,177.0 167.7,190.4 166.2,190.4" fill="#b2b2b2" stroke="#b2b2b2" stroke-width="0.35"/>
<polygon points="159.1,177.0 160.6,176.9 169.2,190.3 167.7,190.4" fill="#ababab" stroke="#ababab" stroke-width="0.35"/>
<polygon points="160.6,176.9 162.0,176.9 170.6,190.3 169.2,190.3" fill="#b3b3b3" stroke="#b3b3b3" stroke-width="0.35"/>
<polygon points="162.0,176.9 163.5,176.8 172.1,190.2 170.6,190.3" fill="#afafaf" stroke="#afafaf" stroke-width="0.35"/>
<polygon points="163.5,176.8 165.0,176.7 173.6,190.1 172.1,190.2" fill="#afafaf" stroke="#afafaf" stroke-width="0.35"/>
<polygon points="165.0,176.7 166.5,176.6 175.1,190.0 173.6,190.1" fill="#a2a2a2" stroke="#a2a2a2" stroke-width="0.35"/>
<polygon points="166.5,176.6 168.0,176.5 176.6,189.9 175.1,190.0" fill="#b8b8b8" stroke="#b8b8b8" stroke-width="0.35"/>
<polygon points="168.0,176.5 169.4,176.4 178.0,189.8 176.6,189.9" fill="#aeaeae" stroke="#aeaeae" stroke-width="0.35"/>
<polygon points="169.4,176.4 170.7,176.1 179.3,189.5 178.0,189.8" fill="#a0a0a0" stroke="#a0a0a0" stroke-width="0.35"/>
<polygon points="170.7,176.1 171.9,175.5 180.5,188.9 179.3,189.5" fill="#b5b5b5" stroke="#b5b5b5" stroke-width="0.35"/>
<polygon points="171.9,175.5 173.1,174.5 181.7,187.9 180.5,188.9" fill="#b5b5b5" stroke="#b5b5b5" stroke-width="0.35"/>
<polygon points="173.1,174.5 174.2,173.4 182.8,186.8 181.7,187.9" fill="#b1b1b1" stroke="#b1b1b1" stroke-width="0.35"/>
<polygon points="174.2,173.4 175.1,172.3 183.7,185.7 182.8,186.8" fill="#b7b7b7" stroke="#b7b7b7" stroke-width="0.35"/>
<polygon points="175.1,172.3 176.0,171.2 184.6,184.6 183.7,185.7" fill="#b7b7b7" stroke="#b7b7b7" stroke-width="0.35"/>
<polygon points="176.0,171.2 176.9,169.9 185.5,183.3 184.6,184.6" fill="#bababa" stroke="#bababa" stroke-width="0.35"/>
<polygon points="176.9,169.9 177.7,168.7 186.3,182.1 185.5,183.3" fill="#bababa" stroke="#bababa" stroke-width="0.35"/>
<polygon points="177.7,168.7 178.3,167.4 186.9,180.8 186.3,182.1" fill="#b7b7b7" stroke="#b7b7b7" stroke-width="0.35"/>
<polygon points="178.3,167.4 178.8,166.1 187.4,179.5 186.9,180.8" fill="#a8a8a8" stroke="#a8a8a8" stroke-width="0.35"/>
<polygon points="178.8,166.1 179.3,164.7 187.9,178.1 187.4,179.5" fill="#b7b7b7" stroke="#b7b7b7" stroke-width="0.35"/>
<polygon points="179.3,164.7 179.7,163.3 188.3,176.7 187.9,178.1" fill="#9f9f9f" stroke="#9f9f9f" stroke-width="0.35"/>
<polygon points="179.7,163.3 180.1,161.9 188.7,175.3 188.3,176.7" fill="#9f9f9f" stroke="#9f9f9f" stroke-width="0.35"/>
<polygon points="180.1,161.9 180.5,160.4 189.1,173.8 188.7,175.3" fill="#9f9f9f" stroke="#9f9f9f" stroke-width="0.35"/>
<polygon points="180.5,160.4 180.9,159.0 189.5,172.4 189.1,173.8" fill="#b6b6b6" stroke="#b6b6b6" stroke-width="0.35"/>
<polygon points="180.9,159.0 181.3,157.6 189.9,171.0 189.5,172.4" fill="#a4a4a4" stroke="#a4a4a4" stroke-width="0.35"/>
<polygon points="181.3,157.6 181.8,156.3 190.4,169.7 189.9,171.0" fill="#a9a9a9" stroke="#a9a9a9" stroke-width="0.35"/>
<polygon points="181.8,156.3 182.3,154.9 190.9,168.3 190.4,169.7" fill="#9f9f9f" stroke="#9f9f9f" stroke-width="0.35"/>
<polygon points="182.3,154.9 182.8,153.5 191.4,166.9 190.9,168.3" fill="#b7b7b7" stroke="#b7b7b7" stroke-width="0.35"/>
<polygon points="182.8,153.5 183.3,152.1 191.9,165.5 191.4,166.9" fill="#b7b7b7" stroke="#b7b7b7" stroke-width="0.35"/>
<polygon points="183.3,152.1 183.8,150.8 192.4,164.2 191.9,165.5" fill="#ababab" stroke="#ababab" stroke-width="0.35"/>
<polygon points="183.8,150.8 184.3,149.4 192.9,162.8 192.4,164.2" fill="#b9b9b9" stroke="#b9b9b9" stroke-width="0.35"/>
<polygon points="184.3,149.4 184.7,148.0 193.3,161.4 192.9,162.8" fill="#b2b2b2" stroke="#b2b2b2" stroke-width="0.35"/>
<polygon points="184.7,148.0 185.1,146.6 193.7,160.0 193.3,161.4" fill="#a3a3a3" stroke="#a3a3a3" stroke-width="0.35"/>
<polygon points="185.1,146.6 185.4,145.2 194.0,158.6 193.7,160.0" fill="#a3a3a3" stroke="#a3a3a3" stroke-width="0.35"/>
<polygon points="185.4,145.2 185.7,143.8 194.3,157.2 194.0,158.6" fill="#a3a3a3" stroke="#a3a3a3" stroke-width="0.35"/>
<polygon points="185.7,143.8 185.9,142.3 194.5,155.7 194.3,157.2" fill="#a3a3a3" stroke="#a3a3a3" stroke-width="0.35"/>
<polygon points="185.9,142.3 186.2,140.9 194.8,154.3 194.5,155.7" fill="#a9a9a9" stroke="#a9a9a9" stroke-width="0.35"/>
<polygon points="186.2,140.9 186.4,139.5 195.0,152.9 194.8,154.3" fill="#b6b6b6" stroke="#b6b6b6" stroke-width="0.35"/>
<polygon points="186.4,139.5 186.6,138.0 195.2,151.4 195.0,152.9" fill="#adadad" stroke="#adadad" stroke-width="0.35"/>
<polygon points="186.6,138.0 186.8,136.6 195.4,150.0 195.2,151.4" fill="#b4b4b4" stroke="#b4b4b4" stroke-width="0.35"/>
<polygon points="186.8,136.6 187.0,135.1 195.6,148.5 195.4,150.0" fill="#b1b1b1" stroke="#b1b1b1" stroke-width="0.35"/>
<polygon points="187.0,135.1 187.2,133.7 195.8,147.1 195.6,148.5" fill="#b1b1b1" stroke="#b1b1b1" stroke-width="0.35"/>
<polygon points="187.2,133.7 187.4,132.2 196.0,145.6 195.8,147.1" fill="#aeaeae" stroke="#aeaeae" stroke-width="0.35"/>
<polygon points="187.4,132.2 187.6,130.8 196.2,144.2 196.0,145.6" fill="#b6b6b6" stroke="#b6b6b6" stroke-width="0.35"/>
<polygon points="187.6,130.8 187.7,129.3 196.3,142.7 196.2,144.2" fill="#a4a4a4" stroke="#a4a4a4" stroke-width="0.35"/>
<polygon points="187.7,129.3 187.9,127.9 196.5,141.3 196.3,142.7" fill="#b9b9b9" stroke="#b9b9b9" stroke-width="0.35"/>
<polygon points="187.9,127.9 188.1,126.4 196.7,139.8 196.5,141.3" fill="#b9b9b9" stroke="#b9b9b9" stroke-width="0.35"/>
<polygon points="188.1,126.4 188.3,125.0 196.9,138.4 196.7,139.8" fill="#9f9f9f" stroke="#9f9f9f" stroke-width="0.35"/>
<polygon points="188.3,125.0 188.5,123.5 197.1,136.9 196.9,138.4" fill="#9d9d9d" stroke="#9d9d9d" stroke-width="0.35"/>
<polygon points="188.5,123.5 188.6,122.1 197.2,135.5 197.1,136.9" fill="#a1a1a1" stroke="#a1a1a1" stroke-width="0.35"/>
<polygon points="188.6,122.1 188.8,120.6 197.4,134.0 197.2,135.5" fill="#a1a1a1" stroke="#a1a1a1" stroke-width="0.35"/>
<polygon points="188.8,120.6 189.0,119.2 197.6,132.6 197.4,134.0" fill="#a0a0a0" stroke="#a0a0a0" stroke-width="0.35"/>
<polygon points="189.0,119.2 189.1,117.7 197.7,131.1 197.6,132.6" fill="#a6a6a6" stroke="#a6a6a6" stroke-width="0.35"/>
<polygon points="189.1,117.7 189.3,116.3 197.9,129.7 197.7,131.1" fill="#a3a3a3" stroke="#a3a3a3" stroke-width="0.35"/>
<polygon points="189.3,116.3 189.5,114.9 198.1,128.3 197.9,129.7" fill="#a2a2a2" stroke="#a2a2a2" stroke-width="0.35"/>
<polygon points="189.5,114.9 189.6,113.4 198.2,126.8 198.1,128.3" fill="#b2b2b2" stroke="#b2b2b2" stroke-width="0.35"/>
<polygon points="189.6,113.4 189.8,112.0 198.4,125.4 198.2,126.8" fill="#9e9e9e" stroke="#9e9e9e" stroke-width="0.35"/>
<polygon points="189.8,112.0 189.9,110.5 198.5,123.9 198.4,125.4" fill="#b7b7b7" stroke="#b7b7b7" stroke-width="0.35"/>
<polygon points="189.9,110.5 190.1,109.1 198.7,122.5 198.5,123.9" fill="#b7b7b7" stroke="#b7b7b7" stroke-width="0.35"/>
<polygon points="190.1,109.1 190.2,107.6 198.8,121.0 198.7,122.5" fill="#b7b7b7" stroke="#b7b7b7" stroke-width="0.35"/>
<polygon points="190.2,107.6 190.4,106.2 199.0,119.6 198.8,121.0" fill="#aaaaaa" stroke="#aaaaaa" stroke-width="0.35"/>
<polygon points="190.4,106.2 190.5,104.7 199.1,118.1 199.0,119.6" fill="#b3b3b3" stroke="#b3b3b3" stroke-width="0.35"/>
<polygon points="190.5,104.7 190.7,103.3 199.3,116.7 199.1,118.1" fill="#b2b2b2" stroke="#b2b2b2" stroke-width="0.35"/>
<polygon points="190.7,103.3 190.8,101.8 199.4,115.2 199.3,116.7" fill="#b1b1b1" stroke="#b1b1b1" stroke-width="0.35"/>
<polygon points="190.8,101.8 191.0,100.4 199.6,113.8 199.4,115.2" fill="#9e9e9e" stroke="#9e9e9e" stroke-width="0.35"/>
<polygon points="191.0,100.4 191.2,98.9 199.8,112.3 199.6,113.8" fill="#a6a6a6" stroke="#a6a6a6" stroke-width="0.35"/>
<polygon points="191.2,98.9 191.3,97.5 199.9,110.9 199.8,112.3" fill="#a6a6a6" stroke="#a6a6a6" stroke-width="0.35"/>
<polygon points="191.3,97.5 191.5,96.0 200.1,109.4 199.9,110.9" fill="#acacac" stroke="#acacac" stroke-width="0.35"/>
<polygon points="191.5,96.0 191.7,94.6 200.3,108.0 200.1,109.4" fill="#b9b9b9" stroke="#b9b9b9" stroke-width="0.35"/>
<polygon points="191.7,94.6 191.9,93.1 200.5,106.5 200.3,108.0" fill="#afafaf" stroke="#afafaf" stroke-width="0.35"/>
<polygon points="191.9,93.1 192.0,91.7 200.6,105.1 200.5,106.5" fill="#b3b3b3" stroke="#b3b3b3" stroke-width="0.35"/>
<polygon points="192.0,91.7 192.2,90.2 200.8,103.6 200.6,105.1" fill="#b3b3b3" stroke="#b3b3b3" stroke-width="0.35"/>
<polygon points="192.2,90.2 192.4,88.8 201.0,102.2 200.8,103.6" fill="#b1b1b1" stroke="#b1b1b1" stroke-width="0.35"/>
<polygon points="192.4,88.8 192.6,87.3 201.2,100.7 201.0,102.2" fill="#adadad" stroke="#adadad" stroke-width="0.35"/>
<polygon points="192.6,87.3 192.8,85.9 201.4,99.3 201.2,100.7" fill="#b5b5b5" stroke="#b5b5b5" stroke-width="0.35"/>
<polygon points="192.8,85.9 193.0,84.5 201.6,97.9 201.4,99.3" fill="#b5b5b5" stroke="#b5b5b5" stroke-width="0.35"/>
<polygon points="193.0,84.5 193.2,83.0 201.8,96.4 201.6,97.9" fill="#a6a6a6" stroke="#a6a6a6" stroke-width="0.35"/>
<polygon points="193.2,83.0 193.5,81.6 202.1,95.0 201.8,96.4" fill="#a6a6a6" stroke="#a6a6a6" stroke-width="0.35"/>
<polygon points="193.5,81.6 193.7,80.1 202.3,93.5 202.1,95.0" fill="#9f9f9f" stroke="#9f9f9f" stroke-width="0.35"/>
<polygon points="193.7,80.1 193.9,78.7 202.5,92.1 202.3,93.5" fill="#b5b5b5" stroke="#b5b5b5" stroke-width="0.35"/>
<polygon points="193.9,78.7 194.1,77.3 202.7,90.7 202.5,92.1" fill="#b5b5b5" stroke="#b5b5b5" stroke-width="0.35"/>
<polygon points="194.1,77.3 194.3,75.8 202.9,89.2 202.7,90.7" fill="#afafaf" stroke="#afafaf" stroke-width="0.35"/>
<polygon points="194.3,75.8 194.5,74.4 203.1,87.8 202.9,89.2" fill="#b0b0b0" stroke="#b0b0b0" stroke-width="0.35"/>
<polygon points="194.5,74.4 194.7,72.9 203.3,86.3 203.1,87.8" fill="#acacac" stroke="#acacac" stroke-width="0.35"/>
<polygon points="194.7,72.9 195.0,71.5 203.6,84.9 203.3,86.3" fill="#a9a9a9" stroke="#a9a9a9" stroke-width="0.35"/>
<polygon points="195.0,71.5 195.2,70.0 203.8,83.4 203.6,84.9" fill="#9e9e9e" stroke="#9e9e9e" stroke-width="0.35"/>
<polygon points="195.2,70.0 195.4,68.6 204.0,82.0 203.8,83.4" fill="#a4a4a4" stroke="#a4a4a4" stroke-width="0.35"/>
<polygon points="195.4,68.6 195.6,67.2 204.2,80.6 204.0,82.0" fill="#b5b5b5" stroke="#b5b5b5" stroke-width="0.35"/>
<polygon points="195.6,67.2 195.8,65.7 204.4,79.1 204.2,80.6" fill="#aaaaaa" stroke="#aaaaaa" stroke-width="0.35"/>
<polygon points="195.8,65.7 196.0,64.3 204.6,77.7 204.4,79.1" fill="#a8a8a8" stroke="#a8a8a8" stroke-width="0.35"/>
<polygon points="196.0,64.3 196.2,62.8 204.8,76.2 204.6,77.7" fill="#afafaf" stroke="#afafaf" stroke-width="0.35"/>
<polygon points="196.2,62.8 196.4,61.4 205.0,74.8 204.8,76.2" fill="#afafaf" stroke="#afafaf" stroke-width="0.35"/>
<polygon points="196.4,61.4 196.6,59.9 205.2,73.3 205.0,74.8" fill="#ababab" stroke="#ababab" stroke-width="0.35"/>
<polygon points="196.6,59.9 196.8,58.5 205.4,71.9 205.2,73.3" fill="#b2b2b2" stroke="#b2b2b2" stroke-width="0.35"/>
<polygon points="196.8,58.5 197.0,57.1 205.6,70.5 205.4,71.9" fill="#b2b2b2" stroke="#b2b2b2" stroke-width="0.35"/>
<polygon points="197.0,57.1 197.2,55.6 205.8,69.0 205.6,70.5" fill="#b2b2b2" stroke="#b2b2b2" stroke-width="0.35"/>
<polygon points="197.2,55.6 197.4,54.2 206.0,67.6 205.8,69.0" fill="#b3b3b3" stroke="#b3b3b3" stroke-width="0.35"/>
<polygon points="197.4,54.2 197.6,52.7 206.2,66.1 206.0,67.6" fill="#b6b6b6" stroke="#b6b6b6" stroke-width="0.35"/>
<polygon points="197.6,52.7 197.8,51.3 206.4,64.7 206.2,66.1" fill="#b1b1b1" stroke="#b1b1b1" stroke-width="0.35"/>
<polygon points="197.8,51.3 198.0,49.8 206.6,63.2 206.4,64.7" fill="#b8b8b8" stroke="#b8b8b8" stroke-width="0.35"/>
<polygon points="198.0,49.8 198.3,48.4 206.9,61.8 206.6,63.2" fill="#afafaf" stroke="#afafaf" stroke-width="0.35"/>
<polygon points="198.3,48.4 198.5,47.0 207.1,60.4 206.9,61.8" fill="#afafaf" stroke="#afafaf" stroke-width="0.35"/>
<polygon points="198.5,47.0 198.7,45.5 207.3,58.9 207.1,60.4" fill="#afafaf" stroke="#afafaf" stroke-width="0.35"/>
<polygon points="198.7,45.5 199.0,44.1 207.6,57.5 207.3,58.9" fill="#afafaf" stroke="#afafaf" stroke-width="0.35"/>
<polygon points="199.0,44.1 199.2,42.6 207.8,56.0 207.6,57.5" fill="#a6a6a6" stroke="#a6a6a6" stroke-width="0.35"/>
<polygon points="199.2,42.6 199.5,41.1 208.1,54.5 207.8,56.0" fill="#a8a8a8" stroke="#a8a8a8" stroke-width="0.35"/>
<polygon points="199.5,41.1 199.7,39.6 208.3,53.0 208.1,54.5" fill="#adadad" stroke="#adadad" stroke-width="0.35"/>
<polygon points="199.7,39.6 200.1,38.2 208.7,51.6 208.3,53.0" fill="#a6a6a6" stroke="#a6a6a6" stroke-width="0.35"/>
<polygon points="200.1,38.2 200.4,36.8 209.0,50.2 208.7,51.6" fill="#a6a6a6" stroke="#a6a6a6" stroke-width="0.35"/>
<polygon points="200.4,36.8 200.9,35.6 209.5,49.0 209.0,50.2" fill="#aaaaaa" stroke="#aaaaaa" stroke-width="0.35"/>
<polygon points="200.9,35.6 201.7,34.2 210.3,47.6 209.5,49.0" fill="#b9b9b9" stroke="#b9b9b9" stroke-width="0.35"/>
<polygon points="201.7,34.2 202.9,33.4 211.5,46.8 210.3,47.6" fill="#a3a3a3" stroke="#a3a3a3" stroke-width="0.35"/>
<polygon points="202.9,33.4 204.3,33.8 212.9,47.2 211.5,46.8" fill="#b0b0b0" stroke="#b0b0b0" stroke-width="0.35"/>
<polygon points="204.3,33.8 205.4,34.5 214.0,47.9 212.9,47.2" fill="#a4a4a4" stroke="#a4a4a4" stroke-width="0.35"/>
<polygon points="205.4,34.5 206.2,35.5 214.8,48.9 214.0,47.9" fill="#a4a4a4" stroke="#a4a4a4" stroke-width="0.35"/>
<polygon points="206.2,35.5 206.8,36.8 215.4,50.2 214.8,48.9" fill="#a4a4a4" stroke="#a4a4a4" stroke-width="0.35"/>
<polygon points="206.8,36.8 207.4,38.3 216.0,51.7 215.4,50.2" fill="#a4a4a4" stroke="#a4a4a4" stroke-width="0.35"/>
<polygon points="207.4,38.3 207.9,39.8 216.5,53.2 216.0,51.7" fill="#b1b1b1" stroke="#b1b1b1" stroke-width="0.35"/>
<polygon points="207.9,39.8 208.4,41.3 217.0,54.7 216.5,53.2" fill="#aeaeae" stroke="#aeaeae" stroke-width="0.35"/>
<polygon points="208.4,41.3 209.0,42.7 217.6,56.1 217.0,54.7" fill="#a8a8a8" stroke="#a8a8a8" stroke-width="0.35"/>
<polygon points="209.0,42.7 209.5,44.0 218.1,57.4 217.6,56.1" fill="#a8a8a8" stroke="#a8a8a8" stroke-width="0.35"/>
<polygon points="209.5,44.0 210.0,45.4 218.6,58.8 218.1,57.4" fill="#aaaaaa" stroke="#aaaaaa" stroke-width="0.35"/>
<polygon points="210.0,45.4 210.5,46.8 219.1,60.2 218.6,58.8" fill="#a5a5a5" stroke="#a5a5a5" stroke-width="0.35"/>
<polygon points="210.5,46.8 211.0,48.2 219.6,61.6 219.1,60.2" fill="#a8a8a8" stroke="#a8a8a8" stroke-width="0.35"/>
<polygon points="211.0,48.2 211.4,49.6 220.0,63.0 219.6,61.6" fill="#a2a2a2" stroke="#a2a2a2" stroke-width="0.35"/>
<polygon points="211.4,49.6 211.9,50.9 220.5,64.3 220.0,63.0" fill="#a2a2a2" stroke="#a2a2a2" stroke-width="0.35"/>
<polygon points="211.9,50.9 212.3,52.3 220.9,65.7 220.5,64.3" fill="#b5b5b5" stroke="#b5b5b5" stroke-width="0.35"/>
<polygon points="212.3,52.3 212.8,53.7 221.4,67.1 220.9,65.7" fill="#b5b5b5" stroke="#b5b5b5" stroke-width="0.35"/>
<polygon points="212.8,53.7 213.2,55.1 221.8,68.5 221.4,67.1" fill="#9d9d9d" stroke="#9d9d9d" stroke-width="0.35"/>
<polygon points="213.2,55.1 213.6,56.5 222.2,69.9 221.8,68.5" fill="#9e9e9e" stroke="#9e9e9e" stroke-width="0.35"/>
<polygon points="213.6,56.5 214.0,57.9 222.6,71.3 222.2,69.9" fill="#b2b2b2" stroke="#b2b2b2" stroke-width="0.35"/>
<polygon points="214.0,57.9 214.4,59.3 223.0,72.7 222.6,71.3" fill="#9d9d9d" stroke="#9d9d9d" stroke-width="0.35"/>
<polygon points="214.4,59.3 214.7,60.7 223.3,74.1 223.0,72.7" fill="#9f9f9f" stroke="#9f9f9f" stroke-width="0.35"/>
<polygon points="214.7,60.7 215.1,62.2 223.7,75.6 223.3,74.1" fill="#aaaaaa" stroke="#aaaaaa" stroke-width="0.35"/>
<polygon points="215.1,62.2 215.5,63.6 224.1,77.0 223.7,75.6" fill="#aaaaaa" stroke="#aaaaaa" stroke-width="0.35"/>
<polygon points="215.5,63.6 215.8,65.0 224.4,78.4 224.1,77.0" fill="#a1a1a1" stroke="#a1a1a1" stroke-width="0.35"/>
<polygon points="215.8,65.0 216.1,66.4 224.7,79.8 224.4,78.4" fill="#a1a1a1" stroke="#a1a1a1" stroke-width="0.35"/>
<polygon points="216.1,66.4 216.5,67.8 225.1,81.2 224.7,79.8" fill="#a1a1a1" stroke="#a1a1a1" stroke-width="0.35"/>
<polygon points="216.5,67.8 216.8,69.2 225.4,82.6 225.1,81.2" fill="#9e9e9e" stroke="#9e9e9e" stroke-width="0.35"/>
<polygon points="216.8,69.2 217.1,70.7 225.7,84.1 225.4,82.6" fill="#a9a9a9" stroke="#a9a9a9" stroke-width="0.35"/>
<polygon points="217.1,70.7 217.4,72.1 226.0,85.5 225.7,84.1" fill="#a3a3a3" stroke="#a3a3a3" stroke-width="0.35"/>
<polygon points="217.4,72.1 217.7,73.5 226.3,86.9 226.0,85.5" fill="#a3a3a3" stroke="#a3a3a3" stroke-width="0.35"/>
<polygon points="217.7,73.5 218.0,74.9 226.6,88.3 226.3,86.9" fill="#a3a3a3" stroke="#a3a3a3" stroke-width="0.35"/>
<polygon points="218.0,74.9 218.3,76.4 226.9,89.8 226.6,88.3" fill="#a3a3a3" stroke="#a3a3a3" stroke-width="0.35"/>
<polygon points="218.3,76.4 218.6,77.8 227.2,91.2 226.9,89.8" fill="#a3a3a3" stroke="#a3a3a3" stroke-width="0.35"/>
<polygon points="218.6,77.8 218.9,79.2 227.5,92.6 227.2,91.2" fill="#aeaeae" stroke="#aeaeae" stroke-width="0.35"/>
<polygon points="218.9,79.2 219.1,80.7 227.7,94.1 227.5,92.6" fill="#b7b7b7" stroke="#b7b7b7" stroke-width="0.35"/>
<polygon points="219.1,80.7 219.4,82.1 228.0,95.5 227.7,94.1" fill="#b3b3b3" stroke="#b3b3b3" stroke-width="0.35"/>
<polygon points="219.4,82.1 219.7,83.5 228.3,96.9 228.0,95.5" fill="#9e9e9e" stroke="#9e9e9e" stroke-width="0.35"/>
<polygon points="219.7,83.5 220.0,85.0 228.6,98.4 228.3,96.9" fill="#9e9e9e" stroke="#9e9e9e" stroke-width="0.35"/>
<polygon points="220.0,85.0 220.2,86.4 228.8,99.8 228.6,98.4" fill="#afafaf" stroke="#afafaf" stroke-width="0.35"/>
<polygon points="220.2,86.4 220.5,87.8 229.1,101.2 228.8,99.8" fill="#b5b5b5" stroke="#b5b5b5" stroke-width="0.35"/>
<polygon points="220.5,87.8 220.8,89.3 229.4,102.7 229.1,101.2" fill="#a5a5a5" stroke="#a5a5a5" stroke-width="0.35"/>
<polygon points="220.8,89.3 221.0,90.7 229.6,104.1 229.4,102.7" fill="#a5a5a5" stroke="#a5a5a5" stroke-width="0.35"/>
<polygon points="221.0,90.7 221.3,92.1 229.9,105.5 229.6,104.1" fill="#b7b7b7" stroke="#b7b7b7" stroke-width="0.35"/>
<polygon points="221.3,92.1 221.6,93.6 230.2,107.0 229.9,105.5" fill="#9f9f9f" stroke="#9f9f9f" stroke-width="0.35"/>
<polygon points="221.6,93.6 221.8,95.0 230.4,108.4 230.2,107.0" fill="#b1b1b1" stroke="#b1b1b1" stroke-width="0.35"/>
<polygon points="221.8,95.0 222.1,96.4 230.7,109.8 230.4,108.4" fill="#a5a5a5" stroke="#a5a5a5" stroke-width="0.35"/>
<polygon points="222.1,96.4 222.3,97.9 230.9,111.3 230.7,109.8" fill="#9e9e9e" stroke="#9e9e9e" stroke-width="0.35"/>
<polygon points="222.3,97.9 222.6,99.3 231.2,112.7 230.9,111.3" fill="#b1b1b1" stroke="#b1b1b1" stroke-width="0.35"/>
<polygon points="222.6,99.3 222.8,100.7 231.4,114.1 231.2,112.7" fill="#a1a1a1" stroke="#a1a1a1" stroke-width="0.35"/>
<polygon points="222.8,100.7 223.1,102.2 231.7,115.6 231.4,114.1" fill="#b8b8b8" stroke="#b8b8b8" stroke-width="0.35"/>
<polygon points="223.1,102.2 223.3,103.6 231.9,117.0 231.7,115.6" fill="#a9a9a9" stroke="#a9a9a9" stroke-width="0.35"/>
<polygon points="223.3,103.6 223.5,105.0 232.1,118.4 231.9,117.0" fill="#b2b2b2" stroke="#b2b2b2" stroke-width="0.35"/>
<polygon points="223.5,105.0 223.8,106.5 232.4,119.9 232.1,118.4" fill="#9f9f9f" stroke="#9f9f9f" stroke-width="0.35"/>
<polygon points="223.8,106.5 224.0,107.9 232.6,121.3 232.4,119.9" fill="#9f9f9f" stroke="#9f9f9f" stroke-width="0.35"/>
<polygon points="224.0,107.9 224.2,109.4 232.8,122.8 232.6,121.3" fill="#9e9e9e" stroke="#9e9e9e" stroke-width="0.35"/>
<polygon points="224.2,109.4 224.5,110.8 233.1,124.2 232.8,122.8" fill="#acacac" stroke="#acacac" stroke-width="0.35"/>
<polygon points="224.5,110.8 224.7,112.2 233.3,125.6 233.1,124.2" fill="#a2a2a2" stroke="#a2a2a2" stroke-width="0.35"/>
<polygon points="224.7,112.2 224.9,113.7 233.5,127.1 233.3,125.6" fill="#ababab" stroke="#ababab" stroke-width="0.35"/>
<polygon points="224.9,113.7 225.2,115.1 233.8,128.5 233.5,127.1" fill="#b6b6b6" stroke="#b6b6b6" stroke-width="0.35"/>
<polygon points="225.2,115.1 225.4,116.6 234.0,130.0 233.8,128.5" fill="#b6b6b6" stroke="#b6b6b6" stroke-width="0.35"/>
<polygon points="225.4,116.6 225.6,118.0 234.2,131.4 234.0,130.0" fill="#b6b6b6" stroke="#b6b6b6" stroke-width="0.35"/>
<polygon points="225.6,118.0 225.9,119.4 234.5,132.8 234.2,131.4" fill="#a3a3a3" stroke="#a3a3a3" stroke-width="0.35"/>
<polygon points="225.9,119.4 226.1,120.9 234.7,134.3 234.5,132.8" fill="#a3a3a3" stroke="#a3a3a3" stroke-width="0.35"/>
<polygon points="226.1,120.9 226.4,122.3 235.0,135.7 234.7,134.3" fill="#a3a3a3" stroke="#a3a3a3" stroke-width="0.35"/>
<polygon points="226.4,122.3 226.6,123.7 235.2,137.1 235.0,135.7" fill="#b8b8b8" stroke="#b8b8b8" stroke-width="0.35"/>
<polygon points="226.6,123.7 226.8,125.2 235.4,138.6 235.2,137.1" fill="#b8b8b8" stroke="#b8b8b8" stroke-width="0.35"/>
<polygon points="226.8,125.2 227.1,126.6 235.7,140.0 235.4,138.6" fill="#b9b9b9" stroke="#b9b9b9" stroke-width="0.35"/>
<polygon points="227.1,126.6 227.3,128.1 235.9,141.5 235.7,140.0" fill="#b9b9b9" stroke="#b9b9b9" stroke-width="0.35"/>
<polygon points="227.3,128.1 227.6,129.5 236.2,142.9 235.9,141.5" fill="#b9b9b9" stroke="#b9b9b9" stroke-width="0.35"/>
<polygon points="227.6,129.5 227.8,131.0 236.4,144.4 236.2,142.9" fill="#a7a7a7" stroke="#a7a7a7" stroke-width="0.35"/>
<polygon points="227.8,131.0 228.0,132.4 236.6,145.8 236.4,144.4" fill="#afafaf" stroke="#afafaf" stroke-width="0.35"/>
<polygon points="228.0,132.4 228.3,133.8 236.9,147.2 236.6,145.8" fill="#afafaf" stroke="#afafaf" stroke-width="0.35"/>
<polygon points="228.3,133.8 228.5,135.3 237.1,148.7 236.9,147.2" fill="#a1a1a1" stroke="#a1a1a1" stroke-width="0.35"/>
<polygon points="228.5,135.3 228.8,136.7 237.4,150.1 237.1,148.7" fill="#a1a1a1" stroke="#a1a1a1" stroke-width="0.35"/>
<polygon points="228.8,136.7 229.0,138.1 237.6,151.5 237.4,150.1" fill="#b7b7b7" stroke="#b7b7b7" stroke-width="0.35"/>
<polygon points="229.0,138.1 229.3,139.6 237.9,153.0 237.6,151.5" fill="#bababa" stroke="#bababa" stroke-width="0.35"/>
<polygon points="229.3,139.6 229.6,141.0 238.2,154.4 237.9,153.0" fill="#b4b4b4" stroke="#b4b4b4" stroke-width="0.35"/>
<polygon points="229.6,141.0 229.9,142.4 238.5,155.8 238.2,154.4" fill="#b7b7b7" stroke="#b7b7b7" stroke-width="0.35"/>
<polygon points="229.9,142.4 230.2,143.9 238.8,157.3 238.5,155.8" fill="#9f9f9f" stroke="#9f9f9f" stroke-width="0.35"/>
<polygon points="230.2,143.9 230.5,145.3 239.1,158.7 238.8,157.3" fill="#a2a2a2" stroke="#a2a2a2" stroke-width="0.35"/>
<polygon points="230.5,145.3 230.8,146.7 239.4,160.1 239.1,158.7" fill="#b5b5b5" stroke="#b5b5b5" stroke-width="0.35"/>
<polygon points="230.8,146.7 231.1,148.1 239.7,161.5 239.4,160.1" fill="#a0a0a0" stroke="#a0a0a0" stroke-width="0.35"/>
<polygon points="231.1,148.1 231.5,149.5 240.1,162.9 239.7,161.5" fill="#a9a9a9" stroke="#a9a9a9" stroke-width="0.35"/>
<polygon points="231.5,149.5 231.9,150.9 240.5,164.3 240.1,162.9" fill="#9d9d9d" stroke="#9d9d9d" stroke-width="0.35"/>
<polygon points="231.9,150.9 232.3,152.3 240.9,165.7 240.5,164.3" fill="#a3a3a3" stroke="#a3a3a3" stroke-width="0.35"/>
<polygon points="232.3,152.3 232.7,153.7 241.3,167.1 240.9,165.7" fill="#b8b8b8" stroke="#b8b8b8" stroke-width="0.35"/>
<polygon points="232.7,153.7 233.2,155.1 241.8,168.5 241.3,167.1" fill="#b7b7b7" stroke="#b7b7b7" stroke-width="0.35"/>
<polygon points="233.2,155.1 233.6,156.5 242.2,169.9 241.8,168.5" fill="#a0a0a0" stroke="#a0a0a0" stroke-width="0.35"/>
<polygon points="233.6,156.5 234.1,157.9 242.7,171.3 242.2,169.9" fill="#a9a9a9" stroke="#a9a9a9" stroke-width="0.35"/>
<polygon points="234.1,157.9 234.6,159.3 243.2,172.7 242.7,171.3" fill="#b4b4b4" stroke="#b4b4b4" stroke-width="0.35"/>
<polygon points="234.6,159.3 235.2,160.6 243.8,174.0 243.2,172.7" fill="#b4b4b4" stroke="#b4b4b4" stroke-width="0.35"/>
<polygon points="235.2,160.6 235.7,161.9 244.3,175.3 243.8,174.0" fill="#a4a4a4" stroke="#a4a4a4" stroke-width="0.35"/>
<polygon points="235.7,161.9 236.3,163.3 244.9,176.7 244.3,175.3" fill="#a8a8a8" stroke="#a8a8a8" stroke-width="0.35"/>
<polygon points="236.3,163.3 236.9,164.7 245.5,178.1 244.9,176.7" fill="#a4a4a4" stroke="#a4a4a4" stroke-width="0.35"/>
<polygon points="236.9,164.7 237.6,166.1 246.2,179.5 245.5,178.1" fill="#aaaaaa" stroke="#aaaaaa" stroke-width="0.35"/>
<polygon points="237.6,166.1 238.3,167.6 246.9,181.0 246.2,179.5" fill="#b5b5b5" stroke="#b5b5b5" stroke-width="0.35"/>
<polygon points="238.3,167.6 239.1,168.9 247.7,182.3 246.9,181.0" fill="#b5b5b5" stroke="#b5b5b5" stroke-width="0.35"/>
<polygon points="239.1,168.9 239.9,170.0 248.5,183.4 247.7,182.3" fill="#b2b2b2" stroke="#b2b2b2" stroke-width="0.35"/>
<polygon points="239.9,170.0 240.9,170.9 249.5,184.3 248.5,183.4" fill="#b2b2b2" stroke="#b2b2b2" stroke-width="0.35"/>
<polygon points="240.9,170.9 241.9,171.5 250.5,184.9 249.5,184.3" fill="#a8a8a8" stroke="#a8a8a8" stroke-width="0.35"/>
<polygon points="241.9,171.5 243.3,172.1 251.9,185.5 250.5,184.9" fill="#b0b0b0" stroke="#b0b0b0" stroke-width="0.35"/>
<polygon points="243.3,172.1 244.7,172.5 253.3,185.9 251.9,185.5" fill="#aeaeae" stroke="#aeaeae" stroke-width="0.35"/>
<polygon points="244.7,172.5 246.3,172.8 254.9,186.2 253.3,185.9" fill="#aeaeae" stroke="#aeaeae" stroke-width="0.35"/>
<polygon points="246.3,172.8 247.7,172.9 256.3,186.3 254.9,186.2" fill="#a3a3a3" stroke="#a3a3a3" stroke-width="0.35"/>
<polygon points="247.7,172.9 249.2,172.9 257.8,186.3 256.3,186.3" fill="#b5b5b5" stroke="#b5b5b5" stroke-width="0.35"/>
<polygon points="249.2,172.9 250.6,172.9 259.2,186.3 257.8,186.3" fill="#9e9e9e" stroke="#9e9e9e" stroke-width="0.35"/>
<polygon points="250.6,172.9 252.0,172.9 260.6,186.3 259.2,186.3" fill="#b5b5b5" stroke="#b5b5b5" stroke-width="0.35"/>
<polygon points="252.0,172.9 253.5,172.9 262.1,186.3 260.6,186.3" fill="#aaaaaa" stroke="#aaaaaa" stroke-width="0.35"/>
<polygon points="253.5,172.9 255.0,172.9 263.6,186.3 262.1,186.3" fill="#afafaf" stroke="#afafaf" stroke-width="0.35"/>
<polygon points="255.0,172.9 256.4,172.9 265.0,186.3 263.6,186.3" fill="#b1b1b1" stroke="#b1b1b1" stroke-width="0.35"/>
<polygon points="256.4,172.9 257.9,172.8 266.5,186.2 265.0,186.3" fill="#b1b1b1" stroke="#b1b1b1" stroke-width="0.35"/>
<polygon points="257.9,172.8 259.4,172.8 268.0,186.2 266.5,186.2" fill="#b1b1b1" stroke="#b1b1b1" stroke-width="0.35"/>
<polygon points="242.9,175.2 253.6,175.2 267.9,186.2 245.6,186.2" fill="#8e8e8e" stroke="none" stroke-width="0.5" />
<line x1="246.0" y1="175.4" x2="248.2" y2="186.0" stroke="#7a7a7a" stroke-width="0.9" />
<line x1="249.0" y1="175.4" x2="251.2" y2="186.0" stroke="#9c9c9c" stroke-width="0.9" />
<line x1="252.0" y1="175.4" x2="254.2" y2="186.0" stroke="#808080" stroke-width="0.9" />
<line x1="255.5" y1="175.4" x2="257.7" y2="186.0" stroke="#9a9a9a" stroke-width="0.9" />
<line x1="259.0" y1="175.4" x2="261.2" y2="186.0" stroke="#858585" stroke-width="0.9" />
<polygon points="113.8,192.0 115.3,191.9 116.7,191.9 118.2,191.8 119.6,191.8 121.1,191.7 122.5,191.7 124.0,191.6 125.5,191.6 126.9,191.5 128.4,191.5 129.8,191.4 131.3,191.4 132.7,191.3 134.2,191.3 135.6,191.2 137.1,191.2 138.6,191.1 140.0,191.1 141.5,191.0 142.9,191.0 144.4,191.0 145.8,190.9 147.3,190.9 148.8,190.8 150.2,190.8 151.7,190.8 153.1,190.7 154.6,190.7 156.0,190.7 157.5,190.6 159.0,190.6 160.4,190.6 161.9,190.5 163.3,190.5 164.8,190.5 166.2,190.4 167.7,190.4 169.2,190.3 170.6,190.3 172.1,190.2 173.6,190.1 175.1,190.0 176.6,189.9 178.0,189.8 179.3,189.5 180.5,188.9 181.7,187.9 182.8,186.8 183.7,185.7 184.6,184.6 185.5,183.3 186.3,182.1 186.9,180.8 187.4,179.5 187.9,178.1 188.3,176.7 188.7,175.3 189.1,173.8 189.5,172.4 189.9,171.0 190.4,169.7 190.9,168.3 191.4,166.9 191.9,165.5 192.4,164.2 192.9,162.8 193.3,161.4 193.7,160.0 194.0,158.6 194.3,157.2 194.5,155.7 194.8,154.3 195.0,152.9 195.2,151.4 195.4,150.0 195.6,148.5 195.8,147.1 196.0,145.6 196.2,144.2 196.3,142.7 196.5,141.3 196.7,139.8 196.9,138.4 197.1,136.9 197.2,135.5 197.4,134.0 197.6,132.6 197.7,131.1 197.9,129.7 198.1,128.3 198.2,126.8 198.4,125.4 198.5,123.9 198.7,122.5 198.8,121.0 199.0,119.6 199.1,118.1 199.3,116.7 199.4,115.2 199.6,113.8 199.8,112.3 199.9,110.9 200.1,109.4 200.3,108.0 200.5,106.5 200.6,105.1 200.8,103.6 201.0,102.2 201.2,100.7 201.4,99.3 201.6,97.9 201.8,96.4 202.1,95.0 202.3,93.5 202.5,92.1 202.7,90.7 202.9,89.2 203.1,87.8 203.3,86.3 203.6,84.9 203.8,83.4 204.0,82.0 204.2,80.6 204.4,79.1 204.6,77.7 204.8,76.2 205.0,74.8 205.2,73.3 205.4,71.9 205.6,70.5 205.8,69.0 206.0,67.6 206.2,66.1 206.4,64.7 206.6,63.2 206.9,61.8 207.1,60.4 207.3,58.9 207.6,57.5 207.8,56.0 208.1,54.5 208.3,53.0 208.7,51.6 209.0,50.2 209.5,49.0 210.3,47.6 211.5,46.8 212.9,47.2 214.0,47.9 214.8,48.9 215.4,50.2 216.0,51.7 216.5,53.2 217.0,54.7 217.6,56.1 218.1,57.4 218.6,58.8 219.1,60.2 219.6,61.6 220.0,63.0 220.5,64.3 220.9,65.7 221.4,67.1 221.8,68.5 222.2,69.9 222.6,71.3 223.0,72.7 223.3,74.1 223.7,75.6 224.1,77.0 224.4,78.4 224.7,79.8 225.1,81.2 225.4,82.6 225.7,84.1 226.0,85.5 226.3,86.9 226.6,88.3 226.9,89.8 227.2,91.2 227.5,92.6 227.7,94.1 228.0,95.5 228.3,96.9 228.6,98.4 228.8,99.8 229.1,101.2 229.4,102.7 229.6,104.1 229.9,105.5 230.2,107.0 230.4,108.4 230.7,109.8 230.9,111.3 231.2,112.7 231.4,114.1 231.7,115.6 231.9,117.0 232.1,118.4 232.4,119.9 232.6,121.3 232.8,122.8 233.1,124.2 233.3,125.6 233.5,127.1 233.8,128.5 234.0,130.0 234.2,131.4 234.5,132.8 234.7,134.3 235.0,135.7 235.2,137.1 235.4,138.6 235.7,140.0 235.9,141.5 236.2,142.9 236.4,144.4 236.6,145.8 236.9,147.2 237.1,148.7 237.4,150.1 237.6,151.5 237.9,153.0 238.2,154.4 238.5,155.8 238.8,157.3 239.1,158.7 239.4,160.1 239.7,161.5 240.1,162.9 240.5,164.3 240.9,165.7 241.3,167.1 241.8,168.5 242.2,169.9 242.7,171.3 243.2,172.7 243.8,174.0 244.3,175.3 244.9,176.7 245.5,178.1 246.2,179.5 246.9,181.0 247.7,182.3 248.5,183.4 249.5,184.3 250.5,184.9 251.9,185.5 253.3,185.9 254.9,186.2 256.3,186.3 257.8,186.3 259.2,186.3 260.6,186.3 262.1,186.3 263.6,186.3 265.0,186.3 266.5,186.2 268.0,186.2 268.0,186.5 113.8,192.2" fill="#c9c9c9" stroke="none" stroke-width="0.5" />
<polyline points="113.8,192.0 115.3,191.9 116.7,191.9 118.2,191.8 119.6,191.8 121.1,191.7 122.5,191.7 124.0,191.6 125.5,191.6 126.9,191.5 128.4,191.5 129.8,191.4 131.3,191.4 132.7,191.3 134.2,191.3 135.6,191.2 137.1,191.2 138.6,191.1 140.0,191.1 141.5,191.0 142.9,191.0 144.4,191.0 145.8,190.9 147.3,190.9 148.8,190.8 150.2,190.8 151.7,190.8 153.1,190.7 154.6,190.7 156.0,190.7 157.5,190.6 159.0,190.6 160.4,190.6 161.9,190.5 163.3,190.5 164.8,190.5 166.2,190.4 167.7,190.4 169.2,190.3 170.6,190.3 172.1,190.2 173.6,190.1 175.1,190.0 176.6,189.9 178.0,189.8 179.3,189.5 180.5,188.9 181.7,187.9 182.8,186.8 183.7,185.7 184.6,184.6 185.5,183.3 186.3,182.1 186.9,180.8 187.4,179.5 187.9,178.1 188.3,176.7 188.7,175.3 189.1,173.8 189.5,172.4 189.9,171.0 190.4,169.7 190.9,168.3 191.4,166.9 191.9,165.5 192.4,164.2 192.9,162.8 193.3,161.4 193.7,160.0 194.0,158.6 194.3,157.2 194.5,155.7 194.8,154.3 195.0,152.9 195.2,151.4 195.4,150.0 195.6,148.5 195.8,147.1 196.0,145.6 196.2,144.2 196.3,142.7 196.5,141.3 196.7,139.8 196.9,138.4 197.1,136.9 197.2,135.5 197.4,134.0 197.6,132.6 197.7,131.1 197.9,129.7 198.1,128.3 198.2,126.8 198.4,125.4 198.5,123.9 198.7,122.5 198.8,121.0 199.0,119.6 199.1,118.1 199.3,116.7 199.4,115.2 199.6,113.8 199.8,112.3 199.9,110.9 200.1,109.4 200.3,108.0 200.5,106.5 200.6,105.1 200.8,103.6 201.0,102.2 201.2,100.7 201.4,99.3 201.6,97.9 201.8,96.4 202.1,95.0 202.3,93.5 202.5,92.1 202.7,90.7 202.9,89.2 203.1,87.8 203.3,86.3 203.6,84.9 203.8,83.4 204.0,82.0 204.2,80.6 204.4,79.1 204.6,77.7 204.8,76.2 205.0,74.8 205.2,73.3 205.4,71.9 205.6,70.5 205.8,69.0 206.0,67.6 206.2,66.1 206.4,64.7 206.6,63.2 206.9,61.8 207.1,60.4 207.3,58.9 207.6,57.5 207.8,56.0 208.1,54.5 208.3,53.0 208.7,51.6 209.0,50.2 209.5,49.0 210.3,47.6 211.5,46.8 212.9,47.2 214.0,47.9 214.8,48.9 215.4,50.2 216.0,51.7 216.5,53.2 217.0,54.7 217.6,56.1 218.1,57.4 218.6,58.8 219.1,60.2 219.6,61.6 220.0,63.0 220.5,64.3 220.9,65.7 221.4,67.1 221.8,68.5 222.2,69.9 222.6,71.3 223.0,72.7 223.3,74.1 223.7,75.6 224.1,77.0 224.4,78.4 224.7,79.8 225.1,81.2 225.4,82.6 225.7,84.1 226.0,85.5 226.3,86.9 226.6,88.3 226.9,89.8 227.2,91.2 227.5,92.6 227.7,94.1 228.0,95.5 228.3,96.9 228.6,98.4 228.8,99.8 229.1,101.2 229.4,102.7 229.6,104.1 229.9,105.5 230.2,107.0 230.4,108.4 230.7,109.8 230.9,111.3 231.2,112.7 231.4,114.1 231.7,115.6 231.9,117.0 232.1,118.4 232.4,119.9 232.6,121.3 232.8,122.8 233.1,124.2 233.3,125.6 233.5,127.1 233.8,128.5 234.0,130.0 234.2,131.4 234.5,132.8 234.7,134.3 235.0,135.7 235.2,137.1 235.4,138.6 235.7,140.0 235.9,141.5 236.2,142.9 236.4,144.4 236.6,145.8 236.9,147.2 237.1,148.7 237.4,150.1 237.6,151.5 237.9,153.0 238.2,154.4 238.5,155.8 238.8,157.3 239.1,158.7 239.4,160.1 239.7,161.5 240.1,162.9 240.5,164.3 240.9,165.7 241.3,167.1 241.8,168.5 242.2,169.9 242.7,171.3 243.2,172.7 243.8,174.0 244.3,175.3 244.9,176.7 245.5,178.1 246.2,179.5 246.9,181.0 247.7,182.3 248.5,183.4 249.5,184.3 250.5,184.9 251.9,185.5 253.3,185.9 254.9,186.2 256.3,186.3 257.8,186.3 259.2,186.3 260.6,186.3 262.1,186.3 263.6,186.3 265.0,186.3 266.5,186.2 268.0,186.2" fill="none" stroke="#999" stroke-width="0.4"/>
<line x1="113.8" y1="192.0" x2="268.0" y2="186.5" stroke="#444" stroke-width="0.8" />
<line x1="90.0" y1="162.5" x2="113.8" y2="192.0" stroke="#333" stroke-width="0.9" />
<line x1="90.0" y1="10.7" x2="90.0" y2="162.5" stroke="#222" stroke-width="1" />
<line x1="80.3" y1="162.3" x2="90.0" y2="162.3" stroke="#222" stroke-width="1.2" />
<text x="76.3" y="167.2" font-size="8.8" text-anchor="end" fill="#111" font-weight="normal" >0</text>
<line x1="85.0" y1="150.0" x2="90.0" y2="150.0" stroke="#222" stroke-width="1.1" />
<line x1="80.3" y1="137.7" x2="90.0" y2="137.7" stroke="#222" stroke-width="1.2" />
<text x="76.3" y="142.6" font-size="8.8" text-anchor="end" fill="#111" font-weight="normal" >50</text>
<line x1="85.0" y1="125.4" x2="90.0" y2="125.4" stroke="#222" stroke-width="1.1" />
<line x1="80.3" y1="113.1" x2="90.0" y2="113.1" stroke="#222" stroke-width="1.2" />
<text x="76.3" y="118.0" font-size="8.8" text-anchor="end" fill="#111" font-weight="normal" >100</text>
<line x1="85.0" y1="100.8" x2="90.0" y2="100.8" stroke="#222" stroke-width="1.1" />
<line x1="80.3" y1="88.5" x2="90.0" y2="88.5" stroke="#222" stroke-width="1.2" />
<text x="76.3" y="93.4" font-size="8.8" text-anchor="end" fill="#111" font-weight="normal" >150</text>
<line x1="85.0" y1="76.2" x2="90.0" y2="76.2" stroke="#222" stroke-width="1.1" />
<line x1="80.3" y1="63.8" x2="90.0" y2="63.8" stroke="#222" stroke-width="1.2" />
<text x="76.3" y="68.7" font-size="8.8" text-anchor="end" fill="#111" font-weight="normal" >200</text>
<line x1="85.0" y1="51.5" x2="90.0" y2="51.5" stroke="#222" stroke-width="1.1" />
<line x1="80.3" y1="39.2" x2="90.0" y2="39.2" stroke="#222" stroke-width="1.2" />
<text x="76.3" y="44.1" font-size="8.8" text-anchor="end" fill="#111" font-weight="normal" >250</text>
<line x1="85.0" y1="26.9" x2="90.0" y2="26.9" stroke="#222" stroke-width="1.1" />
<line x1="80.3" y1="14.6" x2="90.0" y2="14.6" stroke="#222" stroke-width="1.2" />
<text x="76.3" y="19.5" font-size="8.8" text-anchor="end" fill="#111" font-weight="normal" >300</text>
<line x1="86.0" y1="172.2" x2="95.5" y2="172.2" stroke="#222" stroke-width="1.2" />
<line x1="99.0" y1="186.6" x2="108.3" y2="186.6" stroke="#222" stroke-width="1.2" />
<text x="83.5" y="175.6" font-size="9.5" text-anchor="end" fill="#111" font-weight="normal" >Wood</text>
<text x="97.2" y="190.0" font-size="9.5" text-anchor="end" fill="#111" font-weight="normal" >Coated</text>
<text x="113.8" y="202.6" font-size="8.1" text-anchor="middle" fill="#111" font-weight="normal" >0</text>
<text x="140.5" y="202.6" font-size="8.1" text-anchor="middle" fill="#111" font-weight="normal" >100</text>
<text x="163.0" y="201.9" font-size="8.1" text-anchor="middle" fill="#111" font-weight="normal" >200</text>
<text x="184.5" y="201.4" font-size="8.1" text-anchor="middle" fill="#111" font-weight="normal" >300</text>
<text x="206.5" y="200.7" font-size="8.1" text-anchor="middle" fill="#111" font-weight="normal" >400</text>
<text x="228.0" y="200.2" font-size="8.1" text-anchor="middle" fill="#111" font-weight="normal" >500</text>
<text x="250.0" y="199.4" font-size="8.1" text-anchor="middle" fill="#111" font-weight="normal" >600</text>
<text x="271.3" y="198.4" font-size="8.1" text-anchor="middle" fill="#111" font-weight="normal" >700</text>
<line x1="113.8" y1="192.0" x2="113.0" y2="194.5" stroke="#333" stroke-width="0.8" />
<line x1="135.8" y1="191.2" x2="135.0" y2="193.7" stroke="#333" stroke-width="0.8" />
<line x1="157.9" y1="190.4" x2="157.1" y2="192.9" stroke="#333" stroke-width="0.8" />
<line x1="179.9" y1="189.6" x2="179.1" y2="192.1" stroke="#333" stroke-width="0.8" />
<line x1="201.9" y1="188.9" x2="201.1" y2="191.4" stroke="#333" stroke-width="0.8" />
<line x1="223.9" y1="188.1" x2="223.1" y2="190.6" stroke="#333" stroke-width="0.8" />
<line x1="246.0" y1="187.3" x2="245.2" y2="189.8" stroke="#333" stroke-width="0.8" />
<line x1="268.0" y1="186.5" x2="267.2" y2="189.0" stroke="#333" stroke-width="0.8" />
<text x="200.0" y="214.0" font-size="8.4" text-anchor="middle" fill="#111" font-weight="normal" >Time [s]</text>
<text x="58.6" y="90.5" font-size="8.8" text-anchor="middle" fill="#111" font-weight="normal" transform="rotate(-90 58.6 90.5)" >Heat Release Rate [kW/m<tspan dy="-3" font-size="5.5">2</tspan><tspan dy="3">]</tspan></text>
<polygon points="338.4,14.0 478.8,9.7 478.8,157.8 338.4,163.7" fill="#fff" stroke="none" stroke-width="0.5" />
<line x1="359.2" y1="13.4" x2="359.2" y2="162.8" stroke="#a6a6a6" stroke-width="0.7" />
<line x1="380.0" y1="12.7" x2="380.0" y2="162.0" stroke="#a6a6a6" stroke-width="0.7" />
<line x1="400.8" y1="12.1" x2="400.8" y2="161.1" stroke="#a6a6a6" stroke-width="0.7" />
<line x1="421.6" y1="11.5" x2="421.6" y2="160.2" stroke="#a6a6a6" stroke-width="0.7" />
<line x1="442.4" y1="10.8" x2="442.4" y2="159.3" stroke="#a6a6a6" stroke-width="0.7" />
<line x1="463.2" y1="10.2" x2="463.2" y2="158.5" stroke="#a6a6a6" stroke-width="0.7" />
<line x1="338.4" y1="163.7" x2="478.8" y2="157.8" stroke="#a6a6a6" stroke-width="0.7" />
<line x1="478.8" y1="157.8" x2="501.7" y2="185.3" stroke="#a6a6a6" stroke-width="0.7" />
<line x1="338.4" y1="143.6" x2="478.8" y2="138.1" stroke="#a6a6a6" stroke-width="0.7" />
<line x1="478.8" y1="138.1" x2="501.7" y2="165.2" stroke="#a6a6a6" stroke-width="0.7" />
<line x1="338.4" y1="123.6" x2="478.8" y2="118.4" stroke="#a6a6a6" stroke-width="0.7" />
<line x1="478.8" y1="118.4" x2="501.7" y2="145.2" stroke="#a6a6a6" stroke-width="0.7" />
<line x1="338.4" y1="103.5" x2="478.8" y2="98.6" stroke="#a6a6a6" stroke-width="0.7" />
<line x1="478.8" y1="98.6" x2="501.7" y2="125.1" stroke="#a6a6a6" stroke-width="0.7" />
<line x1="338.4" y1="83.5" x2="478.8" y2="78.9" stroke="#a6a6a6" stroke-width="0.7" />
<line x1="478.8" y1="78.9" x2="501.7" y2="105.1" stroke="#a6a6a6" stroke-width="0.7" />
<line x1="338.4" y1="63.4" x2="478.8" y2="59.2" stroke="#a6a6a6" stroke-width="0.7" />
<line x1="478.8" y1="59.2" x2="501.7" y2="85.0" stroke="#a6a6a6" stroke-width="0.7" />
<line x1="338.4" y1="43.4" x2="478.8" y2="39.5" stroke="#a6a6a6" stroke-width="0.7" />
<line x1="478.8" y1="39.5" x2="501.7" y2="64.9" stroke="#a6a6a6" stroke-width="0.7" />
<line x1="338.4" y1="23.3" x2="478.8" y2="19.8" stroke="#a6a6a6" stroke-width="0.7" />
<line x1="478.8" y1="19.8" x2="501.7" y2="44.9" stroke="#a6a6a6" stroke-width="0.7" />
<line x1="490.0" y1="22.0" x2="490.0" y2="171.0" stroke="#ddd" stroke-width="0.6" />
<line x1="338.4" y1="14.0" x2="478.8" y2="9.7" stroke="#4a4a4a" stroke-width="1" />
<line x1="478.8" y1="9.7" x2="501.7" y2="36.3" stroke="#4a4a4a" stroke-width="1" />
<line x1="478.8" y1="9.7" x2="478.8" y2="157.8" stroke="#888" stroke-width="0.8" />
<line x1="501.7" y1="36.3" x2="501.7" y2="184.5" stroke="#555" stroke-width="1" />
<line x1="478.8" y1="157.8" x2="501.7" y2="184.5" stroke="#999" stroke-width="0.7" />
<line x1="338.4" y1="163.7" x2="478.8" y2="157.8" stroke="#999" stroke-width="0.7" />
<polygon points="340.3,163.8 341.5,163.8 342.6,163.8 343.8,163.8 344.9,163.8 346.0,163.8 347.1,163.8 348.2,163.8 349.3,163.8 350.4,163.8 351.4,163.8 352.5,163.7 353.6,163.4 354.7,163.0 355.7,162.4 356.6,161.8 357.3,161.1 357.9,160.3 358.5,159.4 359.0,158.4 359.5,157.3 359.9,156.2 360.3,155.1 360.7,153.9 361.0,152.9 361.3,151.8 361.6,150.8 361.8,149.7 362.1,148.6 362.3,147.5 362.5,146.4 362.7,145.3 362.9,144.2 363.1,143.1 363.3,142.0 363.5,140.9 363.6,139.8 363.8,138.7 364.0,137.6 364.1,136.5 364.3,135.4 364.4,134.3 364.6,133.2 364.7,132.1 364.9,131.0 365.0,129.9 365.1,128.8 365.3,127.7 365.4,126.6 365.6,125.5 365.7,124.4 365.9,123.3 366.1,122.2 366.3,121.1 366.5,120.0 366.7,118.9 366.9,117.8 367.0,116.7 367.3,115.6 367.5,114.5 367.7,113.4 367.9,112.3 368.1,111.2 368.4,110.2 368.6,109.1 368.9,108.0 369.2,106.9 369.5,105.9 369.8,104.8 370.1,103.8 370.5,102.8 370.9,101.7 371.4,100.7 371.8,99.7 372.4,98.7 372.9,97.7 373.4,96.7 374.0,95.8 374.6,94.8 375.2,93.9 375.8,93.0 376.5,92.2 377.3,91.3 378.0,90.5 378.8,89.7 379.6,88.9 380.4,88.1 381.2,87.3 382.0,86.6 382.8,85.8 383.6,85.0 384.4,84.2 385.1,83.4 385.8,82.6 386.5,81.7 387.2,80.9 387.9,80.0 388.5,79.1 389.2,78.2 389.8,77.3 390.5,76.3 391.1,75.4 391.7,74.5 392.3,73.5 392.9,72.6 393.4,71.6 394.0,70.6 394.5,69.7 395.0,68.7 395.5,67.7 395.9,66.7 396.4,65.7 396.8,64.7 397.2,63.7 397.6,62.6 398.0,61.6 398.4,60.5 398.8,59.5 399.2,58.4 399.6,57.4 399.9,56.3 400.3,55.3 400.7,54.2 401.1,53.2 401.5,52.2 401.9,51.1 402.3,50.1 402.8,49.1 403.2,48.1 403.6,47.0 404.1,46.0 404.5,45.0 404.9,43.9 405.4,42.9 405.8,41.9 406.3,40.9 406.7,39.8 407.2,38.8 407.7,37.9 408.2,36.9 408.7,35.9 409.2,34.9 409.8,34.0 410.4,33.0 411.0,32.0 411.6,31.1 412.2,30.1 412.9,29.2 413.5,28.3 414.3,27.5 415.0,26.7 415.8,26.0 416.7,25.3 417.7,24.6 418.7,24.0 419.7,23.7 420.8,23.6 421.8,23.7 423.0,24.0 424.1,24.4 425.1,24.7 426.0,25.1 426.9,25.7 427.7,26.4 428.5,27.1 429.3,27.9 430.0,28.8 430.8,29.7 431.5,30.6 432.3,31.5 433.1,32.4 433.9,33.2 434.7,33.9 435.5,34.7 436.3,35.4 437.2,36.2 438.0,36.9 438.8,37.6 439.7,38.4 440.5,39.1 441.3,39.8 442.2,40.5 443.0,41.3 443.9,42.0 444.7,42.7 445.6,43.4 446.4,44.1 447.3,44.8 448.2,45.5 449.0,46.2 449.9,46.9 450.7,47.6 451.6,48.4 452.4,49.1 453.2,49.8 454.0,50.6 454.8,51.4 455.6,52.1 456.4,52.9 457.2,53.7 466.4,64.5 465.6,63.7 464.8,62.9 464.0,62.2 463.2,61.4 462.4,60.6 461.6,59.9 460.8,59.2 459.9,58.4 459.1,57.7 458.2,57.0 457.4,56.3 456.5,55.6 455.6,54.9 454.8,54.2 453.9,53.5 453.1,52.8 452.2,52.1 451.4,51.3 450.5,50.6 449.7,49.9 448.9,49.2 448.0,48.4 447.2,47.7 446.4,47.0 445.5,46.2 444.7,45.5 443.9,44.7 443.1,44.0 442.3,43.2 441.5,42.3 440.7,41.4 440.0,40.5 439.2,39.6 438.5,38.7 437.7,37.9 436.9,37.2 436.1,36.5 435.2,35.9 434.3,35.5 433.3,35.2 432.2,34.8 431.0,34.5 430.0,34.4 428.9,34.5 427.9,34.8 426.9,35.4 425.9,36.1 425.0,36.8 424.2,37.5 423.5,38.3 422.7,39.1 422.1,40.0 421.4,40.9 420.8,41.9 420.2,42.8 419.6,43.8 419.0,44.8 418.4,45.7 417.9,46.7 417.4,47.7 416.9,48.7 416.4,49.6 415.9,50.6 415.5,51.7 415.0,52.7 414.6,53.7 414.1,54.7 413.7,55.8 413.3,56.8 412.8,57.8 412.4,58.9 412.0,59.9 411.5,60.9 411.1,61.9 410.7,63.0 410.3,64.0 409.9,65.0 409.5,66.1 409.1,67.1 408.8,68.2 408.4,69.2 408.0,70.3 407.6,71.3 407.2,72.4 406.8,73.4 406.4,74.5 406.0,75.5 405.6,76.5 405.1,77.5 404.7,78.5 404.2,79.5 403.7,80.5 403.2,81.4 402.6,82.4 402.1,83.4 401.5,84.3 400.9,85.3 400.3,86.2 399.7,87.1 399.0,88.1 398.4,89.0 397.7,89.9 397.1,90.8 396.4,91.7 395.7,92.5 395.0,93.4 394.3,94.2 393.6,95.0 392.8,95.8 392.0,96.6 391.2,97.4 390.4,98.1 389.6,98.9 388.8,99.7 388.0,100.5 387.2,101.3 386.5,102.1 385.7,103.0 385.0,103.8 384.4,104.7 383.8,105.6 383.2,106.6 382.6,107.5 382.1,108.5 381.6,109.5 381.0,110.5 380.6,111.5 380.1,112.5 379.7,113.6 379.3,114.6 379.0,115.6 378.7,116.7 378.4,117.7 378.1,118.8 377.8,119.9 377.6,121.0 377.3,122.0 377.1,123.1 376.9,124.2 376.7,125.3 376.5,126.4 376.2,127.5 376.1,128.6 375.9,129.7 375.7,130.8 375.5,131.9 375.3,133.0 375.1,134.1 374.9,135.2 374.8,136.3 374.6,137.4 374.5,138.5 374.3,139.6 374.2,140.7 374.1,141.8 373.9,142.9 373.8,144.0 373.6,145.1 373.5,146.2 373.3,147.3 373.2,148.4 373.0,149.5 372.8,150.6 372.7,151.7 372.5,152.8 372.3,153.9 372.1,155.0 371.9,156.1 371.7,157.2 371.5,158.3 371.3,159.4 371.0,160.5 370.8,161.6 370.5,162.6 370.2,163.7 369.9,164.7 369.5,165.9 369.1,167.0 368.7,168.1 368.2,169.2 367.7,170.2 367.1,171.1 366.5,171.9 365.8,172.6 364.9,173.2 363.9,173.8 362.8,174.2 361.7,174.5 360.6,174.6 359.6,174.6 358.5,174.6 357.4,174.6 356.3,174.6 355.2,174.6 354.1,174.6 353.0,174.6 351.8,174.6 350.7,174.6 349.5,174.6" fill="#9c9c9c" stroke="none" stroke-width="0.5" />
<polygon points="349.5,174.6 350.7,174.6 351.8,174.6 353.0,174.6 354.1,174.6 355.2,174.6 356.3,174.6 357.4,174.6 358.5,174.6 359.6,174.6 360.6,174.6 361.7,174.5 362.8,174.2 363.9,173.8 364.9,173.2 365.8,172.6 366.5,171.9 367.1,171.1 367.7,170.2 368.2,169.2 368.7,168.1 369.1,167.0 369.5,165.9 369.9,164.7 370.2,163.7 370.5,162.6 370.8,161.6 371.0,160.5 371.3,159.4 371.5,158.3 371.7,157.2 371.9,156.1 372.1,155.0 372.3,153.9 372.5,152.8 372.7,151.7 372.8,150.6 373.0,149.5 373.2,148.4 373.3,147.3 373.5,146.2 373.6,145.1 373.8,144.0 373.9,142.9 374.1,141.8 374.2,140.7 374.3,139.6 374.5,138.5 374.6,137.4 374.8,136.3 374.9,135.2 375.1,134.1 375.3,133.0 375.5,131.9 375.7,130.8 375.9,129.7 376.1,128.6 376.2,127.5 376.5,126.4 376.7,125.3 376.9,124.2 377.1,123.1 377.3,122.0 377.6,121.0 377.8,119.9 378.1,118.8 378.4,117.7 378.7,116.7 379.0,115.6 379.3,114.6 379.7,113.6 380.1,112.5 380.6,111.5 381.0,110.5 381.6,109.5 382.1,108.5 382.6,107.5 383.2,106.6 383.8,105.6 384.4,104.7 385.0,103.8 385.7,103.0 386.5,102.1 387.2,101.3 388.0,100.5 388.8,99.7 389.6,98.9 390.4,98.1 391.2,97.4 392.0,96.6 392.8,95.8 393.6,95.0 394.3,94.2 395.0,93.4 395.7,92.5 396.4,91.7 397.1,90.8 397.7,89.9 398.4,89.0 399.0,88.1 399.7,87.1 400.3,86.2 400.9,85.3 401.5,84.3 402.1,83.4 402.6,82.4 403.2,81.4 403.7,80.5 404.2,79.5 404.7,78.5 405.1,77.5 405.6,76.5 406.0,75.5 406.4,74.5 406.8,73.4 407.2,72.4 407.6,71.3 408.0,70.3 408.4,69.2 408.8,68.2 409.1,67.1 409.5,66.1 409.9,65.0 410.3,64.0 410.7,63.0 411.1,61.9 411.5,60.9 412.0,59.9 412.4,58.9 412.8,57.8 413.3,56.8 413.7,55.8 414.1,54.7 414.6,53.7 415.0,52.7 415.5,51.7 415.9,50.6 416.4,49.6 416.9,48.7 417.4,47.7 417.9,46.7 418.4,45.7 419.0,44.8 419.6,43.8 420.2,42.8 420.8,41.9 421.4,40.9 422.1,40.0 422.7,39.1 423.5,38.3 424.2,37.5 425.0,36.8 425.9,36.1 426.9,35.4 427.9,34.8 428.9,34.5 430.0,34.4 431.0,34.5 432.2,34.8 433.3,35.2 434.3,35.5 435.2,35.9 436.1,36.5 436.9,37.2 437.7,37.9 438.5,38.7 439.2,39.6 440.0,40.5 440.7,41.4 441.5,42.3 442.3,43.2 443.1,44.0 443.9,44.7 444.7,45.5 445.5,46.2 446.4,47.0 447.2,47.7 448.0,48.4 448.9,49.2 449.7,49.9 450.5,50.6 451.4,51.3 452.2,52.1 453.1,52.8 453.9,53.5 454.8,54.2 455.6,54.9 456.5,55.6 457.4,56.3 458.2,57.0 459.1,57.7 459.9,58.4 460.8,59.2 461.6,59.9 462.4,60.6 463.2,61.4 464.0,62.2 464.8,62.9 465.6,63.7 466.4,64.5 466.6,66.0 466.6,175.6 351.0,176.4" fill="#000" stroke="none" stroke-width="0.5" />
<polygon points="351.5,178.4 352.5,178.4 353.5,178.3 354.5,178.3 355.4,178.2 356.4,178.2 357.4,178.1 358.4,178.1 359.4,178.1 360.4,178.0 361.4,178.0 362.3,177.9 363.3,177.9 364.3,177.8 365.3,177.8 366.3,177.7 367.3,177.7 368.3,177.6 369.2,177.6 370.2,177.5 371.2,177.5 372.2,177.4 373.2,177.4 374.2,177.3 375.1,177.3 376.1,177.2 377.1,177.2 378.1,177.1 379.1,177.1 380.1,177.0 381.1,177.0 382.0,176.9 383.0,176.9 384.0,176.8 385.0,176.8 386.0,176.7 387.0,176.6 388.0,176.6 388.9,176.5 389.9,176.5 390.9,176.4 391.9,176.4 392.9,176.3 393.9,176.3 394.9,176.2 395.8,176.2 396.8,176.1 397.8,176.1 398.8,176.0 399.8,176.0 400.8,175.9 401.8,175.9 402.7,175.8 403.7,175.7 404.7,175.7 405.7,175.6 406.7,175.5 407.7,175.4 408.6,175.3 409.6,175.2 410.6,175.1 411.6,174.9 412.6,174.7 413.6,174.5 414.5,174.2 415.4,174.0 416.3,173.6 417.1,173.2 417.9,172.7 418.7,172.2 419.5,171.5 420.3,170.9 421.1,170.2 421.8,169.5 422.6,168.8 423.3,168.1 424.1,167.5 424.9,166.9 425.7,166.3 426.5,165.7 427.3,165.1 428.0,164.5 428.8,163.8 429.5,163.2 430.3,162.6 431.0,161.9 431.7,161.2 432.4,160.5 433.1,159.8 433.8,159.1 434.4,158.3 435.1,157.5 435.7,156.8 436.3,156.0 436.8,155.2 437.4,154.4 437.8,153.5 438.3,152.7 438.7,151.8 439.2,150.9 439.6,150.0 440.0,149.1 440.4,148.2 440.7,147.2 441.1,146.3 441.4,145.4 441.8,144.5 442.1,143.5 442.5,142.6 442.8,141.7 443.1,140.8 443.5,139.8 443.8,138.9 444.0,137.9 444.3,137.0 444.6,136.0 444.9,135.1 445.2,134.1 445.5,133.2 445.8,132.3 446.1,131.3 446.4,130.4 446.8,129.5 447.1,128.6 447.5,127.6 447.9,126.7 448.2,125.8 448.6,124.9 449.0,124.0 449.4,123.1 449.8,122.2 450.2,121.3 450.6,120.4 451.1,119.5 451.5,118.6 451.9,117.7 452.4,116.8 452.9,116.0 453.4,115.1 453.9,114.3 454.4,113.4 454.9,112.6 455.4,111.7 456.0,110.9 456.6,110.0 457.2,109.3 457.8,108.5 458.5,107.8 459.2,107.1 459.9,106.5 460.6,105.8 461.4,105.1 462.3,104.5 463.2,103.8 464.0,103.3 464.9,103.0 465.8,102.7 466.7,102.7 467.7,102.8 468.6,103.0 469.6,103.3 470.5,103.6 471.5,103.9 472.5,104.3 473.4,104.6 474.4,104.9 475.3,105.3 476.2,105.6 477.1,106.0 478.1,106.3 479.0,106.7 479.9,107.1 480.8,107.5 481.7,108.0 482.6,108.4 483.4,108.9 484.3,109.3 485.1,109.8 486.0,110.3 486.8,110.9 487.6,111.4 488.4,112.0 489.2,112.6 490.0,113.2 490.7,113.8 491.5,114.5 492.3,115.1 493.0,115.7 493.8,116.4 494.5,117.0 495.3,117.6 496.0,118.3 496.8,119.0 497.5,119.6 498.2,120.3 498.9,121.0 499.6,121.7 500.3,122.4 501.0,123.1 501.7,123.8 501.7,124.5 500.9,124.0 500.1,123.6 499.3,123.1 498.5,122.7 497.7,122.2 496.9,121.8 496.1,121.3 495.3,120.9 494.4,120.5 493.6,120.0 492.8,119.6 492.0,119.1 491.2,118.7 490.4,118.2 489.6,117.7 488.7,117.3 487.9,116.9 487.1,116.5 486.2,116.1 485.4,115.8 484.5,115.6 483.7,115.4 482.8,115.1 481.9,114.9 481.0,114.7 480.0,114.5 479.1,114.3 478.2,114.2 477.3,114.0 476.4,114.0 475.5,113.9 474.5,113.9 473.6,114.0 472.7,114.1 471.7,114.3 470.8,114.5 469.8,114.8 469.0,115.1 468.2,115.4 467.4,115.7 466.7,116.1 466.0,116.6 465.4,117.3 464.8,118.0 464.2,118.8 463.6,119.6 463.1,120.4 462.5,121.3 462.0,122.1 461.6,122.9 461.1,123.6 460.7,124.4 460.2,125.2 459.8,126.0 459.4,126.9 459.0,127.7 458.6,128.6 458.3,129.4 457.9,130.3 457.5,131.1 457.2,132.0 456.8,132.9 456.5,133.7 456.1,134.6 455.8,135.4 455.5,136.3 455.1,137.1 454.8,138.0 454.5,138.9 454.2,139.7 453.9,140.6 453.6,141.5 453.3,142.4 453.0,143.2 452.7,144.1 452.4,145.0 452.1,145.9 451.8,146.7 451.5,147.6 451.2,148.5 450.9,149.4 450.6,150.2 450.3,151.1 450.0,151.9 449.6,152.8 449.3,153.7 448.9,154.5 448.6,155.4 448.2,156.2 447.9,157.1 447.5,157.9 447.2,158.8 446.8,159.6 446.4,160.5 446.0,161.3 445.6,162.2 445.2,163.0 444.8,163.8 444.4,164.6 444.0,165.4 443.5,166.2 443.0,167.0 442.6,167.8 442.1,168.5 441.6,169.3 441.0,170.1 440.5,170.8 439.9,171.6 439.4,172.3 438.8,173.1 438.2,173.8 437.6,174.5 437.0,175.2 436.4,175.9 435.7,176.5 435.1,177.2 434.5,177.8 433.8,178.5 433.1,179.2 432.5,179.8 431.8,180.5 431.0,181.1 430.3,181.7 429.6,182.3 428.8,182.8 428.1,183.3 427.3,183.7 426.5,184.1 425.7,184.4 424.8,184.7 423.9,185.0 423.1,185.3 422.1,185.5 421.2,185.7 420.3,185.9 419.4,186.1 418.5,186.3 417.6,186.5 416.7,186.6 415.8,186.8 414.9,186.9 413.9,187.1 413.0,187.2 412.1,187.3 411.2,187.4 410.3,187.5 409.4,187.6 408.4,187.7 407.5,187.8 406.6,187.8 405.7,187.9 404.8,187.9 403.8,188.0 402.9,188.0 402.0,188.1 401.1,188.1 400.2,188.2 399.2,188.2 398.3,188.2 397.4,188.3 396.5,188.3 395.6,188.4 394.6,188.4 393.7,188.5 392.8,188.5 391.9,188.6 391.0,188.6 390.0,188.7 389.1,188.7 388.2,188.7 387.3,188.8 386.4,188.8 385.4,188.9 384.5,188.9 383.6,189.0 382.7,189.0 381.8,189.1 380.8,189.1 379.9,189.2 379.0,189.2 378.1,189.2 377.2,189.3 376.2,189.3 375.3,189.4 374.4,189.4 373.5,189.5 372.5,189.5 371.6,189.6 370.7,189.6 369.8,189.6 368.9,189.7 367.9,189.7 367.0,189.8 366.1,189.8 365.2,189.8 364.3,189.9 363.3,189.9 362.4,190.0 361.5,190.0" fill="#858585" stroke="none" stroke-width="0.5" />
<polygon points="361.5,190.0 362.4,190.0 363.3,189.9 364.3,189.9 365.2,189.8 366.1,189.8 367.0,189.8 367.9,189.7 368.9,189.7 369.8,189.6 370.7,189.6 371.6,189.6 372.5,189.5 373.5,189.5 374.4,189.4 375.3,189.4 376.2,189.3 377.2,189.3 378.1,189.2 379.0,189.2 379.9,189.2 380.8,189.1 381.8,189.1 382.7,189.0 383.6,189.0 384.5,188.9 385.4,188.9 386.4,188.8 387.3,188.8 388.2,188.7 389.1,188.7 390.0,188.7 391.0,188.6 391.9,188.6 392.8,188.5 393.7,188.5 394.6,188.4 395.6,188.4 396.5,188.3 397.4,188.3 398.3,188.2 399.2,188.2 400.2,188.2 401.1,188.1 402.0,188.1 402.9,188.0 403.8,188.0 404.8,187.9 405.7,187.9 406.6,187.8 407.5,187.8 408.4,187.7 409.4,187.6 410.3,187.5 411.2,187.4 412.1,187.3 413.0,187.2 413.9,187.1 414.9,186.9 415.8,186.8 416.7,186.6 417.6,186.5 418.5,186.3 419.4,186.1 420.3,185.9 421.2,185.7 422.1,185.5 423.1,185.3 423.9,185.0 424.8,184.7 425.7,184.4 426.5,184.1 427.3,183.7 428.1,183.3 428.8,182.8 429.6,182.3 430.3,181.7 431.0,181.1 431.8,180.5 432.5,179.8 433.1,179.2 433.8,178.5 434.5,177.8 435.1,177.2 435.7,176.5 436.4,175.9 437.0,175.2 437.6,174.5 438.2,173.8 438.8,173.1 439.4,172.3 439.9,171.6 440.5,170.8 441.0,170.1 441.6,169.3 442.1,168.5 442.6,167.8 443.0,167.0 443.5,166.2 444.0,165.4 444.4,164.6 444.8,163.8 445.2,163.0 445.6,162.2 446.0,161.3 446.4,160.5 446.8,159.6 447.2,158.8 447.5,157.9 447.9,157.1 448.2,156.2 448.6,155.4 448.9,154.5 449.3,153.7 449.6,152.8 450.0,151.9 450.3,151.1 450.6,150.2 450.9,149.4 451.2,148.5 451.5,147.6 451.8,146.7 452.1,145.9 452.4,145.0 452.7,144.1 453.0,143.2 453.3,142.4 453.6,141.5 453.9,140.6 454.2,139.7 454.5,138.9 454.8,138.0 455.1,137.1 455.5,136.3 455.8,135.4 456.1,134.6 456.5,133.7 456.8,132.9 457.2,132.0 457.5,131.1 457.9,130.3 458.3,129.4 458.6,128.6 459.0,127.7 459.4,126.9 459.8,126.0 460.2,125.2 460.7,124.4 461.1,123.6 461.6,122.9 462.0,122.1 462.5,121.3 463.1,120.4 463.6,119.6 464.2,118.8 464.8,118.0 465.4,117.3 466.0,116.6 466.7,116.1 467.4,115.7 468.2,115.4 469.0,115.1 469.8,114.8 470.8,114.5 471.7,114.3 472.7,114.1 473.6,114.0 474.5,113.9 475.5,113.9 476.4,114.0 477.3,114.0 478.2,114.2 479.1,114.3 480.0,114.5 481.0,114.7 481.9,114.9 482.8,115.1 483.7,115.4 484.5,115.6 485.4,115.8 486.2,116.1 487.1,116.5 487.9,116.9 488.7,117.3 489.6,117.7 490.4,118.2 491.2,118.7 492.0,119.1 492.8,119.6 493.6,120.0 494.4,120.5 495.3,120.9 496.1,121.3 496.9,121.8 497.7,122.2 498.5,122.7 499.3,123.1 500.1,123.6 500.9,124.0 501.7,124.5 501.7,184.5 361.5,190.0" fill="#c9c9c9" stroke="none" stroke-width="0.5" />
<line x1="352.5" y1="177.4" x2="412.0" y2="175.4" stroke="#f4f4f4" stroke-width="0.9" />
<line x1="361.5" y1="190.0" x2="501.7" y2="184.5" stroke="#555" stroke-width="0.8" />
<line x1="338.4" y1="163.7" x2="361.5" y2="190.0" stroke="#333" stroke-width="0.9" />
<line x1="338.4" y1="14.0" x2="338.4" y2="163.7" stroke="#222" stroke-width="1" />
<line x1="330.3" y1="163.7" x2="338.6" y2="163.7" stroke="#222" stroke-width="1.2" />
<text x="326.2" y="168.2" font-size="8.1" text-anchor="end" fill="#111" font-weight="normal" >0</text>
<line x1="334.3" y1="153.7" x2="338.6" y2="153.7" stroke="#222" stroke-width="1.1" />
<line x1="330.3" y1="143.6" x2="338.6" y2="143.6" stroke="#222" stroke-width="1.2" />
<text x="326.2" y="148.1" font-size="8.1" text-anchor="end" fill="#111" font-weight="normal" >20</text>
<line x1="334.3" y1="133.6" x2="338.6" y2="133.6" stroke="#222" stroke-width="1.1" />
<line x1="330.3" y1="123.6" x2="338.6" y2="123.6" stroke="#222" stroke-width="1.2" />
<text x="326.2" y="128.1" font-size="8.1" text-anchor="end" fill="#111" font-weight="normal" >40</text>
<line x1="334.3" y1="113.6" x2="338.6" y2="113.6" stroke="#222" stroke-width="1.1" />
<line x1="330.3" y1="103.5" x2="338.6" y2="103.5" stroke="#222" stroke-width="1.2" />
<text x="326.2" y="108.0" font-size="8.1" text-anchor="end" fill="#111" font-weight="normal" >60</text>
<line x1="334.3" y1="93.5" x2="338.6" y2="93.5" stroke="#222" stroke-width="1.1" />
<line x1="330.3" y1="83.5" x2="338.6" y2="83.5" stroke="#222" stroke-width="1.2" />
<text x="326.2" y="88.0" font-size="8.1" text-anchor="end" fill="#111" font-weight="normal" >80</text>
<line x1="334.3" y1="73.5" x2="338.6" y2="73.5" stroke="#222" stroke-width="1.1" />
<line x1="330.3" y1="63.4" x2="338.6" y2="63.4" stroke="#222" stroke-width="1.2" />
<text x="326.2" y="67.9" font-size="8.1" text-anchor="end" fill="#111" font-weight="normal" >100</text>
<line x1="334.3" y1="53.4" x2="338.6" y2="53.4" stroke="#222" stroke-width="1.1" />
<line x1="330.3" y1="43.4" x2="338.6" y2="43.4" stroke="#222" stroke-width="1.2" />
<text x="326.2" y="47.9" font-size="8.1" text-anchor="end" fill="#111" font-weight="normal" >120</text>
<line x1="334.3" y1="33.4" x2="338.6" y2="33.4" stroke="#222" stroke-width="1.1" />
<line x1="330.3" y1="23.3" x2="338.6" y2="23.3" stroke="#222" stroke-width="1.2" />
<text x="326.2" y="27.8" font-size="8.1" text-anchor="end" fill="#111" font-weight="normal" >140</text>
<line x1="334.6" y1="172.2" x2="344.5" y2="172.2" stroke="#222" stroke-width="1.2" />
<line x1="348.0" y1="185.2" x2="357.0" y2="185.2" stroke="#222" stroke-width="1.2" />
<text x="331.0" y="176.8" font-size="9.5" text-anchor="end" fill="#111" font-weight="normal" >Wood</text>
<text x="341.6" y="190.6" font-size="9.5" text-anchor="end" fill="#111" font-weight="normal" >Coated</text>
<text x="361.8" y="201.2" font-size="8.1" text-anchor="middle" fill="#111" font-weight="normal" >0</text>
<text x="385.3" y="200.2" font-size="8.1" text-anchor="middle" fill="#111" font-weight="normal" >100</text>
<text x="406.0" y="199.5" font-size="8.1" text-anchor="middle" fill="#111" font-weight="normal" >200</text>
<text x="427.8" y="199.0" font-size="8.1" text-anchor="middle" fill="#111" font-weight="normal" >300</text>
<text x="449.0" y="198.5" font-size="8.1" text-anchor="middle" fill="#111" font-weight="normal" >400</text>
<text x="471.0" y="198.1" font-size="8.1" text-anchor="middle" fill="#111" font-weight="normal" >500</text>
<text x="491.7" y="197.8" font-size="8.1" text-anchor="middle" fill="#111" font-weight="normal" >600</text>
<line x1="361.5" y1="190.0" x2="360.7" y2="192.5" stroke="#333" stroke-width="0.8" />
<line x1="383.2" y1="189.2" x2="382.4" y2="191.7" stroke="#333" stroke-width="0.8" />
<line x1="404.9" y1="188.3" x2="404.1" y2="190.8" stroke="#333" stroke-width="0.8" />
<line x1="426.6" y1="187.4" x2="425.8" y2="189.9" stroke="#333" stroke-width="0.8" />
<line x1="448.3" y1="186.6" x2="447.5" y2="189.1" stroke="#333" stroke-width="0.8" />
<line x1="470.0" y1="185.8" x2="469.2" y2="188.2" stroke="#333" stroke-width="0.8" />
<line x1="491.7" y1="184.9" x2="490.9" y2="187.4" stroke="#333" stroke-width="0.8" />
<text x="432.0" y="211.6" font-size="8.4" text-anchor="middle" fill="#111" font-weight="normal" >Time [s]</text>
<text x="297.0" y="94.3" font-size="8.6" text-anchor="middle" fill="#111" font-weight="normal" transform="rotate(-90 297.0 94.3)" >Average Rate of Heat</text>
<text x="307.8" y="94.3" font-size="8.6" text-anchor="middle" fill="#111" font-weight="normal" transform="rotate(-90 307.8 94.3)" >Emission [kW/m<tspan dy="-3" font-size="5.5">2</tspan><tspan dy="3">]</tspan></text>
<line x1="114.0" y1="193.2" x2="67.0" y2="306.0" stroke="#111" stroke-width="1.3" stroke-dasharray="8 2.4"/>
<polygon points="49.4,270.9 66.2,255.0 66.2,265.7 49.4,281.6" fill="url(#wside)" stroke="none" stroke-width="0.5" />
<polygon points="4.1,270.9 49.4,270.9 49.4,281.6 4.1,281.6" fill="url(#wfront)" stroke="none" stroke-width="0.5" />
<polygon points="4.1,270.9 49.4,270.9 66.2,255.0 20.9,255.0" fill="url(#wtop)" stroke="none" stroke-width="0.5" />
<line x1="4.1" y1="274.1" x2="49.4" y2="274.1" stroke="#8a8a8a" stroke-width="0.6" />
<line x1="49.4" y1="274.1" x2="66.2" y2="258.2" stroke="#666" stroke-width="0.5" />
<line x1="4.1" y1="276.5" x2="49.4" y2="276.5" stroke="#747474" stroke-width="0.6" />
<line x1="49.4" y1="276.5" x2="66.2" y2="260.6" stroke="#666" stroke-width="0.5" />
<line x1="4.1" y1="278.6" x2="49.4" y2="278.6" stroke="#6c6c6c" stroke-width="0.6" />
<line x1="49.4" y1="278.6" x2="66.2" y2="262.7" stroke="#666" stroke-width="0.5" />
<line x1="4.1" y1="280.3" x2="49.4" y2="280.3" stroke="#7e7e7e" stroke-width="0.6" />
<line x1="49.4" y1="280.3" x2="66.2" y2="264.4" stroke="#666" stroke-width="0.5" />
<line x1="10.0" y1="268.1" x2="45.0" y2="268.1" stroke="#8e8e8e" stroke-width="0.5" />
<line x1="23.1" y1="266.6" x2="49.7" y2="266.6" stroke="#8e8e8e" stroke-width="0.5" />
<line x1="17.3" y1="266.8" x2="50.9" y2="266.8" stroke="#8e8e8e" stroke-width="0.5" />
<line x1="18.6" y1="261.5" x2="48.6" y2="261.5" stroke="#8e8e8e" stroke-width="0.5" />
<line x1="29.1" y1="268.4" x2="39.7" y2="268.4" stroke="#8e8e8e" stroke-width="0.5" />
<line x1="29.1" y1="267.3" x2="44.5" y2="267.3" stroke="#969696" stroke-width="0.5" />
<line x1="20.9" y1="260.8" x2="46.2" y2="260.8" stroke="#969696" stroke-width="0.5" />
<polygon points="119.6,270.5 134.0,255.5 134.0,266.7 119.6,281.7" fill="url(#wside)" stroke="none" stroke-width="0.5" />
<polygon points="73.3,270.5 119.6,270.5 119.6,281.7 73.3,281.7" fill="url(#wfront)" stroke="none" stroke-width="0.5" />
<polygon points="73.3,270.5 119.6,270.5 134.0,255.5 87.7,255.5" fill="url(#wtop)" stroke="none" stroke-width="0.5" />
<line x1="73.3" y1="273.9" x2="119.6" y2="273.9" stroke="#8a8a8a" stroke-width="0.6" />
<line x1="119.6" y1="273.9" x2="134.0" y2="258.9" stroke="#666" stroke-width="0.5" />
<line x1="73.3" y1="276.3" x2="119.6" y2="276.3" stroke="#747474" stroke-width="0.6" />
<line x1="119.6" y1="276.3" x2="134.0" y2="261.3" stroke="#666" stroke-width="0.5" />
<line x1="73.3" y1="278.6" x2="119.6" y2="278.6" stroke="#6c6c6c" stroke-width="0.6" />
<line x1="119.6" y1="278.6" x2="134.0" y2="263.6" stroke="#666" stroke-width="0.5" />
<line x1="73.3" y1="280.4" x2="119.6" y2="280.4" stroke="#7e7e7e" stroke-width="0.6" />
<line x1="119.6" y1="280.4" x2="134.0" y2="265.4" stroke="#666" stroke-width="0.5" />
<line x1="77.7" y1="269.1" x2="113.9" y2="269.1" stroke="#969696" stroke-width="0.5" />
<line x1="100.0" y1="263.8" x2="113.5" y2="263.8" stroke="#b4b4b4" stroke-width="0.5" />
<line x1="90.9" y1="269.3" x2="116.5" y2="269.3" stroke="#969696" stroke-width="0.5" />
<line x1="79.8" y1="263.8" x2="110.1" y2="263.8" stroke="#8e8e8e" stroke-width="0.5" />
<line x1="94.5" y1="257.2" x2="129.4" y2="257.2" stroke="#969696" stroke-width="0.5" />
<line x1="87.3" y1="260.3" x2="121.6" y2="260.3" stroke="#969696" stroke-width="0.5" />
<line x1="78.6" y1="266.5" x2="109.4" y2="266.5" stroke="#969696" stroke-width="0.5" />
<g transform="translate(75.0 215.0) scale(0.1453 0.1453)" filter="url(#blurS)">
<path d="M120,80 L165,55 L235,48 L255,80 L238,100 L245,135 L300,130 L322,160 L285,178 L300,212 L330,218 L370,270 L370,300 L340,320 L250,335 L150,340 L40,312 L30,305 L60,275 L110,245 L125,215 L100,195 L98,185 L140,165 L150,142 L122,110 Z" fill="#636363"/>
<path d="M30,306 C50,285 85,255 112,246 C135,250 150,275 152,300 C140,322 110,328 80,322 C60,318 40,316 30,306 Z" fill="url(#smk4)"/>
<path d="M60,300 C85,282 110,270 130,272 C115,290 90,305 60,300 Z" fill="#7a7a7a"/>
<path d="M45,312 C75,318 110,322 150,335 C120,345 70,335 45,312 Z" fill="#8c8c8c"/>
<path d="M245,255 C265,225 300,208 325,215 C350,225 372,260 372,285 C365,310 330,322 295,322 C270,322 250,305 245,255 Z" fill="url(#smk4)"/>
<path d="M270,262 C295,245 325,245 345,262 C325,272 295,275 270,262 Z" fill="#6c6c6c"/>
<path d="M262,300 C290,290 325,292 350,305 C320,318 285,318 262,300 Z" fill="#777"/>
<path d="M128,212 C160,222 210,228 242,228 C256,260 254,300 240,334 C215,338 170,326 142,304 C130,275 125,240 128,212 Z" fill="url(#smk3)"/>
<path d="M188,232 C205,236 225,240 238,246 C240,275 232,305 222,322 C205,300 192,265 188,232 Z" fill="#a4a4a4" opacity="0.8"/>
<path d="M98,186 C120,170 170,158 228,146 C255,136 285,126 300,132 C318,142 325,158 316,166 C300,170 288,172 280,176 C292,190 302,205 298,216 C280,228 250,232 215,228 C180,228 140,214 112,200 C104,196 98,192 98,186 Z" fill="url(#smk2)"/>
<path d="M120,188 C150,176 185,172 210,176 C190,192 150,198 120,188 Z" fill="#dedede"/>
<path d="M246,150 C262,142 285,136 298,140 C292,154 268,160 246,150 Z" fill="#d8d8d8"/>
<path d="M205,160 C235,165 262,185 280,210 C255,222 225,215 210,195 C204,184 203,170 205,160 Z" fill="#8e8e8e"/>
<ellipse cx="290" cy="214" rx="9" ry="7" fill="#f2f2f2"/>
<path d="M118,82 C135,64 170,52 232,48 C250,56 258,72 254,84 C244,92 238,98 236,104 C244,118 244,130 238,138 C220,150 185,152 152,142 C132,132 118,110 118,82 Z" fill="url(#smk1)"/>
<path d="M150,70 C180,58 215,54 240,60 C235,80 200,88 150,70 Z" fill="#a6a6a6"/>
<path d="M122,95 C140,105 175,118 200,120 C195,140 160,140 138,128 C128,118 122,108 122,95 Z" fill="#505050"/>
</g>
<polygon points="234.0,270.0 251.5,253.8 251.5,263.6 234.0,279.8" fill="#262626" stroke="none" stroke-width="0.5" />
<polygon points="188.2,270.0 234.0,270.0 234.0,279.8 188.2,279.8" fill="#4c4c4c" stroke="none" stroke-width="0.5" filter="url(#char)"/>
<polygon points="188.2,270.0 234.0,270.0 251.5,253.8 205.7,253.8" fill="#3c3c3c" stroke="none" stroke-width="0.5" filter="url(#char)"/>
<g transform="translate(203.5 233.8) scale(0.375 0.330)">
<ellipse cx="50" cy="93" rx="60" ry="15" fill="url(#shad)"/>
<g filter="url(#blurF)">
<path d="M6,72 C3,52 5,33 9,18 C13,27 17,35 22,42 C23,28 25,15 28,4 C33,15 38,27 42,36 C46,22 51,10 57,0 C61,13 64,27 64,40 C69,32 75,26 81,20 C82,35 80,49 76,60 C84,58 92,56 99,56 C95,72 87,85 75,93 C60,101 30,101 14,95 Z" fill="url(#flameg)"/>
<path d="M66,44 C70,36 76,29 80,24 C80,38 78,50 74,60 C70,56 68,50 66,44 Z" fill="#8f8f8f"/>
<path d="M70,66 C78,61 88,58 96,58 C92,72 84,83 74,90 C70,84 69,74 70,66 Z" fill="#5e5e5e"/>
<path d="M22,42 C25,50 27,56 27,62 M42,36 C44,46 45,56 44,64 M64,40 C63,52 60,62 56,70" fill="none" stroke="#6c6c6c" stroke-width="2" opacity="0.7"/>
<path d="M4,76 C1,60 6,48 14,38 C20,44 28,46 36,44 C40,38 44,34 48,30 C50,40 54,48 58,56 C62,68 60,84 52,93 C42,100 28,100 16,97 C8,93 5,86 4,76 Z" fill="url(#lobeg)" opacity="0.9"/>
<ellipse cx="46" cy="100" rx="43" ry="8" fill="#0c0c0c" opacity="0.85"/>
</g>
</g>
<polygon points="370.4,269.4 386.7,255.3 386.7,265.3 370.4,279.4" fill="#2a2a2a" stroke="none" stroke-width="0.5" />
<polygon points="325.0,269.4 370.4,269.4 370.4,279.4 325.0,279.4" fill="#4c4c4c" stroke="none" stroke-width="0.5" filter="url(#char)"/>
<polygon points="325.0,269.4 370.4,269.4 386.7,255.3 341.3,255.3" fill="#5c5c5c" stroke="none" stroke-width="0.5" filter="url(#char)"/>
<g transform="translate(336.5 223.0) scale(0.440 0.425)">
<ellipse cx="50" cy="93" rx="60" ry="15" fill="url(#shad)"/>
<g filter="url(#blurF)">
<path d="M6,72 C3,52 5,33 9,18 C13,27 17,35 22,42 C23,28 25,15 28,4 C33,15 38,27 42,36 C46,22 51,10 57,0 C61,13 64,27 64,40 C69,32 75,26 81,20 C82,35 80,49 76,60 C84,58 92,56 99,56 C95,72 87,85 75,93 C60,101 30,101 14,95 Z" fill="url(#flameg)"/>
<path d="M66,44 C70,36 76,29 80,24 C80,38 78,50 74,60 C70,56 68,50 66,44 Z" fill="#8f8f8f"/>
<path d="M70,66 C78,61 88,58 96,58 C92,72 84,83 74,90 C70,84 69,74 70,66 Z" fill="#5e5e5e"/>
<path d="M22,42 C25,50 27,56 27,62 M42,36 C44,46 45,56 44,64 M64,40 C63,52 60,62 56,70" fill="none" stroke="#6c6c6c" stroke-width="2" opacity="0.7"/>
<path d="M4,76 C1,60 6,48 14,38 C20,44 28,46 36,44 C40,38 44,34 48,30 C50,40 54,48 58,56 C62,68 60,84 52,93 C42,100 28,100 16,97 C8,93 5,86 4,76 Z" fill="url(#lobeg)" opacity="0.9"/>
<ellipse cx="46" cy="100" rx="43" ry="8" fill="#0c0c0c" opacity="0.85"/>
</g>
</g>
<polygon points="49.1,368.0 65.7,352.1 65.7,363.0 49.1,378.9" fill="url(#cside)" stroke="none" stroke-width="0.5" />
<polygon points="4.1,368.0 49.1,368.0 49.1,378.9 4.1,378.9" fill="url(#cfront)" stroke="none" stroke-width="0.5" />
<polygon points="4.1,368.0 49.1,368.0 65.7,352.1 20.7,352.1" fill="url(#ctop)" stroke="none" stroke-width="0.5" />
<line x1="4.1" y1="371.3" x2="49.1" y2="371.3" stroke="#8a8a8a" stroke-width="0.6" />
<line x1="49.1" y1="371.3" x2="65.7" y2="355.4" stroke="#666" stroke-width="0.5" />
<line x1="4.1" y1="373.7" x2="49.1" y2="373.7" stroke="#747474" stroke-width="0.6" />
<line x1="49.1" y1="373.7" x2="65.7" y2="357.8" stroke="#666" stroke-width="0.5" />
<line x1="4.1" y1="375.8" x2="49.1" y2="375.8" stroke="#6c6c6c" stroke-width="0.6" />
<line x1="49.1" y1="375.8" x2="65.7" y2="359.9" stroke="#666" stroke-width="0.5" />
<line x1="4.1" y1="377.6" x2="49.1" y2="377.6" stroke="#7e7e7e" stroke-width="0.6" />
<line x1="49.1" y1="377.6" x2="65.7" y2="361.7" stroke="#666" stroke-width="0.5" />
<line x1="9.9" y1="365.2" x2="44.8" y2="365.2" stroke="#8e8e8e" stroke-width="0.5" />
<line x1="22.9" y1="363.7" x2="49.3" y2="363.7" stroke="#8e8e8e" stroke-width="0.5" />
<line x1="17.2" y1="363.9" x2="50.6" y2="363.9" stroke="#8e8e8e" stroke-width="0.5" />
<line x1="18.4" y1="358.6" x2="48.2" y2="358.6" stroke="#8e8e8e" stroke-width="0.5" />
<line x1="28.9" y1="365.5" x2="39.4" y2="365.5" stroke="#8e8e8e" stroke-width="0.5" />
<line x1="28.9" y1="364.4" x2="44.2" y2="364.4" stroke="#969696" stroke-width="0.5" />
<line x1="20.8" y1="357.9" x2="45.8" y2="357.9" stroke="#969696" stroke-width="0.5" />
<polygon points="4.1,368.0 49.1,368.0 65.7,352.1 20.7,352.1" fill="url(#fadeR)" stroke="none" stroke-width="0.5" />
<polygon points="136.6,370.0 153.4,356.0 153.4,362.0 136.6,379.3" fill="url(#wside)" stroke="none" stroke-width="0.5" />
<polygon points="92.3,370.0 136.6,370.0 136.6,379.3 92.3,379.3" fill="url(#wfront)" stroke="none" stroke-width="0.5" />
<path d="M92.3,370.2 L92.3,366.8 Q92.3,365.6 93.4,364.6 L110.3,350.6 Q111.6,349.5 113.5,349.5 L148,349.5 Q153.4,349.8 153.4,354 L153.4,357.5 L137,371.2 Q136.6,371.6 136,371.6 Z" fill="url(#cb2top)"/>
<path d="M92.3,366.4 L136.6,366.4 L153.4,352.6 L153.4,357.5 L136.8,371.4 L92.3,370.6 Z" fill="url(#cb2bev)" opacity="0.9"/>
<path d="M133,366.8 L149.5,352" stroke="#999" stroke-width="1.6" opacity="0.55" fill="none" filter="url(#blur1)"/>
<polygon points="266.0,367.5 282.0,353.0 282.0,363.3 266.0,379.0" fill="#262626" stroke="none" stroke-width="0.5" />
<polygon points="220.5,369.5 266.0,369.5 266.0,379.0 220.5,379.0" fill="#3a3a3a" stroke="none" stroke-width="0.5" filter="url(#char)"/>
<path d="M220.5,370 L220.5,367.5 L234.6,352.2 Q235.4,351.4 237,351.4 L279,351.4 Q282,351.6 282,354 L282,356 L266.3,370.4 Z" fill="url(#glosstop)"/>
<g transform="translate(235.2 322.1) scale(0.0727 0.1003)" filter="url(#blurS)">
<path d="M120,80 L165,55 L235,48 L255,80 L238,100 L245,135 L300,130 L322,160 L285,178 L300,212 L330,218 L370,270 L370,300 L340,320 L250,335 L150,340 L40,312 L30,305 L60,275 L110,245 L125,215 L100,195 L98,185 L140,165 L150,142 L122,110 Z" fill="#636363"/>
<path d="M30,306 C50,285 85,255 112,246 C135,250 150,275 152,300 C140,322 110,328 80,322 C60,318 40,316 30,306 Z" fill="url(#smk4)"/>
<path d="M60,300 C85,282 110,270 130,272 C115,290 90,305 60,300 Z" fill="#7a7a7a"/>
<path d="M45,312 C75,318 110,322 150,335 C120,345 70,335 45,312 Z" fill="#8c8c8c"/>
<path d="M245,255 C265,225 300,208 325,215 C350,225 372,260 372,285 C365,310 330,322 295,322 C270,322 250,305 245,255 Z" fill="url(#smk4)"/>
<path d="M270,262 C295,245 325,245 345,262 C325,272 295,275 270,262 Z" fill="#6c6c6c"/>
<path d="M262,300 C290,290 325,292 350,305 C320,318 285,318 262,300 Z" fill="#777"/>
<path d="M128,212 C160,222 210,228 242,228 C256,260 254,300 240,334 C215,338 170,326 142,304 C130,275 125,240 128,212 Z" fill="url(#smk3)"/>
<path d="M188,232 C205,236 225,240 238,246 C240,275 232,305 222,322 C205,300 192,265 188,232 Z" fill="#a4a4a4" opacity="0.8"/>
<path d="M98,186 C120,170 170,158 228,146 C255,136 285,126 300,132 C318,142 325,158 316,166 C300,170 288,172 280,176 C292,190 302,205 298,216 C280,228 250,232 215,228 C180,228 140,214 112,200 C104,196 98,192 98,186 Z" fill="url(#smk2)"/>
<path d="M120,188 C150,176 185,172 210,176 C190,192 150,198 120,188 Z" fill="#dedede"/>
<path d="M246,150 C262,142 285,136 298,140 C292,154 268,160 246,150 Z" fill="#d8d8d8"/>
<path d="M205,160 C235,165 262,185 280,210 C255,222 225,215 210,195 C204,184 203,170 205,160 Z" fill="#8e8e8e"/>
<ellipse cx="290" cy="214" rx="9" ry="7" fill="#f2f2f2"/>
<path d="M118,82 C135,64 170,52 232,48 C250,56 258,72 254,84 C244,92 238,98 236,104 C244,118 244,130 238,138 C220,150 185,152 152,142 C132,132 118,110 118,82 Z" fill="url(#smk1)"/>
<path d="M150,70 C180,58 215,54 240,60 C235,80 200,88 150,70 Z" fill="#a6a6a6"/>
<path d="M122,95 C140,105 175,118 200,120 C195,140 160,140 138,128 C128,118 122,108 122,95 Z" fill="#505050"/>
</g>
<polygon points="451.7,368.4 469.5,353.1 469.5,364.2 451.7,379.0" fill="#262626" stroke="none" stroke-width="0.5" />
<polygon points="407.6,370.2 451.7,370.2 451.7,379.0 407.6,379.0" fill="#3a3a3a" stroke="none" stroke-width="0.5" filter="url(#char)"/>
<path d="M407.6,370.6 L407.6,368.4 L421.2,355.4 Q422,354.6 423.5,354.5 L467,353.1 Q469.5,353.1 469.5,355 L469.5,357 L452,371 Z" fill="url(#glosstop)"/>
<g transform="translate(418.5 324.0) scale(0.410 0.375)">
<ellipse cx="50" cy="93" rx="60" ry="15" fill="url(#shad)"/>
<g filter="url(#blurF)">
<path d="M6,72 C3,52 5,33 9,18 C13,27 17,35 22,42 C23,28 25,15 28,4 C33,15 38,27 42,36 C46,22 51,10 57,0 C61,13 64,27 64,40 C69,32 75,26 81,20 C82,35 80,49 76,60 C84,58 92,56 99,56 C95,72 87,85 75,93 C60,101 30,101 14,95 Z" fill="url(#flameg)"/>
<path d="M66,44 C70,36 76,29 80,24 C80,38 78,50 74,60 C70,56 68,50 66,44 Z" fill="#8f8f8f"/>
<path d="M70,66 C78,61 88,58 96,58 C92,72 84,83 74,90 C70,84 69,74 70,66 Z" fill="#5e5e5e"/>
<path d="M22,42 C25,50 27,56 27,62 M42,36 C44,46 45,56 44,64 M64,40 C63,52 60,62 56,70" fill="none" stroke="#6c6c6c" stroke-width="2" opacity="0.7"/>
<path d="M4,76 C1,60 6,48 14,38 C20,44 28,46 36,44 C40,38 44,34 48,30 C50,40 54,48 58,56 C62,68 60,84 52,93 C42,100 28,100 16,97 C8,93 5,86 4,76 Z" fill="url(#lobeg)" opacity="0.9"/>
<ellipse cx="46" cy="100" rx="43" ry="8" fill="#0c0c0c" opacity="0.85"/>
</g>
</g>
<line x1="282.7" y1="195.9" x2="533.0" y2="307.5" stroke="#111" stroke-width="1.3" stroke-dasharray="7 2.7"/>
<line x1="67.0" y1="307.4" x2="533.0" y2="307.4" stroke="#111" stroke-width="1.3" />
<polygon points="538.5,307.4 531.3,304.0 533.2,307.4 531.3,310.8" fill="#111" stroke="none" stroke-width="0.5" />
<line x1="67.2" y1="300.5" x2="67.2" y2="314.3" stroke="#111" stroke-width="1.2" />
<line x1="137.6" y1="290.0" x2="137.6" y2="307.4" stroke="#111" stroke-width="1.2" />
<line x1="296.0" y1="290.5" x2="296.0" y2="307.4" stroke="#111" stroke-width="1.2" />
<line x1="397.0" y1="292.0" x2="397.0" y2="307.4" stroke="#111" stroke-width="1.2" />
<line x1="309.3" y1="307.6" x2="309.3" y2="323.5" stroke="#aaa" stroke-width="1.1" />
<line x1="356.8" y1="307.6" x2="356.8" y2="323.5" stroke="#aaa" stroke-width="1.1" />
<line x1="464.4" y1="307.6" x2="464.4" y2="323.5" stroke="#aaa" stroke-width="1.1" />
<line x1="22.0" y1="298.4" x2="51.0" y2="298.4" stroke="#111" stroke-width="1.2" />
<polygon points="55.6,298.4 49.6,295.8 51.2,298.4 49.6,301.0" fill="#111" stroke="none" stroke-width="0.5" />
<line x1="22.0" y1="342.9" x2="51.0" y2="342.9" stroke="#747474" stroke-width="1.3" />
<polygon points="55.6,342.9 49.6,340.3 51.2,342.9 49.6,345.5" fill="#8c8c8c" stroke="none" stroke-width="0.5" />
<text x="34.7" y="293.5" font-size="8.3" text-anchor="middle" fill="#111" font-weight="bold"  stroke="#111" stroke-width="0.25">Wood</text>
<text x="36.0" y="338.6" font-size="8.5" text-anchor="middle" fill="#111" font-weight="bold"  stroke="#111" stroke-width="0.25">Coated</text>
<text x="99.6" y="295.4" font-size="8.5" text-anchor="middle" fill="#111" font-weight="bold" stroke="#fff" stroke-width="2" paint-order="stroke" stroke-linejoin="round">Volatiles release</text>
<text x="65.3" y="324.0" font-size="8.5" text-anchor="start" fill="#111" font-weight="bold"  stroke="#111" stroke-width="0.25">0 s</text>
<text x="218.3" y="291.6" font-size="8.5" text-anchor="middle" fill="#111" font-weight="bold"  stroke="#111" stroke-width="0.25">Combustion and</text>
<text x="218.3" y="302.9" font-size="8.5" text-anchor="middle" fill="#111" font-weight="bold"  stroke="#111" stroke-width="0.25">surface char formation</text>
<text x="346.5" y="294.0" font-size="8.5" text-anchor="middle" fill="#111" font-weight="bold"  stroke="#111" stroke-width="0.25">Surface char cracking</text>
<text x="344.2" y="303.7" font-size="8.5" text-anchor="middle" fill="#111" font-weight="bold"  stroke="#111" stroke-width="0.25">Increased HRR</text>
<text x="467.8" y="301.3" font-size="8.5" text-anchor="middle" fill="#111" font-weight="bold"  stroke="#111" stroke-width="0.25">Glowing</text>
<text x="532.3" y="321.8" font-size="8.5" text-anchor="middle" fill="#111" font-weight="bold"  stroke="#111" stroke-width="0.25">700 s</text>
<text x="136.3" y="287.0" font-size="9.2" text-anchor="start" fill="#111" font-weight="bold" transform="rotate(-44 136.3 287.0)"  stroke="#111" stroke-width="0.25">Ignition: 89 s</text>
<text x="281.0" y="275.2" font-size="9.0" text-anchor="start" fill="#111" font-weight="bold" transform="rotate(-42 281.0 275.2)"  stroke="#111" stroke-width="0.25">Maximum HRR</text>
<text x="292.4" y="286.5" font-size="9.0" text-anchor="start" fill="#111" font-weight="bold" transform="rotate(-43 292.4 286.5)"  stroke="#111" stroke-width="0.25">reached:&#160;&#160; 340 s</text>
<text x="392.0" y="286.0" font-size="9.0" text-anchor="start" fill="#111" font-weight="bold" transform="rotate(-42 392.0 286.0)" stroke="#fff" stroke-width="2.2" paint-order="stroke" stroke-linejoin="round">Flame out:&#160;&#160; 467 s</text>
<text x="119.8" y="391.6" font-size="8.5" text-anchor="middle" fill="#a8a8a8" font-weight="bold" >Formation of protective</text>
<text x="119.2" y="401.6" font-size="8.5" text-anchor="middle" fill="#a8a8a8" font-weight="bold" >expanded coating</text>
<text x="254.0" y="396.4" font-size="8.5" text-anchor="middle" fill="#a8a8a8" font-weight="bold" >Delayed volatiles</text>
<text x="254.4" y="408.0" font-size="8.5" text-anchor="middle" fill="#a8a8a8" font-weight="bold" >release</text>
<text x="439.2" y="394.8" font-size="8.5" text-anchor="middle" fill="#a8a8a8" font-weight="bold" >Combustion</text>
<text x="301.5" y="334.5" font-size="9.9" text-anchor="start" fill="#939393" font-weight="normal" transform="rotate(45.5 301.5 334.5)" >Ignition: 358&#160;&#160; s</text>
<text x="350.3" y="335.0" font-size="9.9" text-anchor="start" fill="#939393" font-weight="normal" transform="rotate(45 350.3 335.0)" >Maximum HRR</text>
<text x="340.0" y="347.6" font-size="9.9" text-anchor="start" fill="#939393" font-weight="normal" transform="rotate(45 340.0 347.6)" >reached:&#160; 431s</text>
<text x="459.4" y="332.9" font-size="9.9" text-anchor="start" fill="#939393" font-weight="normal" transform="rotate(45 459.4 332.9)" >Flame out:&#160; 587 s</text>
<polygon points="481.5,273.2 499.9,256.5 499.9,266.3 481.5,283.0" fill="#0c0c0c" stroke="none" stroke-width="0.5" />
<polygon points="435.1,273.2 481.5,273.2 481.5,283.0 435.1,283.0" fill="#161616" stroke="none" stroke-width="0.5" />
<polygon points="435.1,273.2 481.5,273.2 499.9,256.5 453.5,256.5" fill="url(#blacktop)" stroke="none" stroke-width="0.5" />
</svg>
</body></html>
